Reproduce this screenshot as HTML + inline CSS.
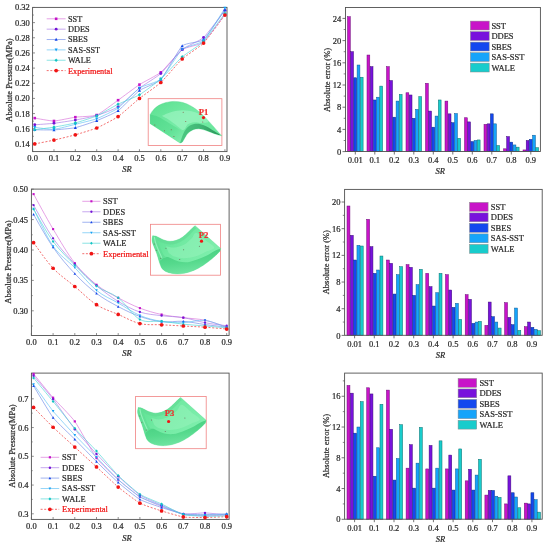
<!DOCTYPE html>
<html lang="en"><head><meta charset="utf-8"><title>Absolute pressure and absolute error versus SR</title>
<style>html,body{margin:0;padding:0;background:#fff}svg{display:block}</style></head>
<body>
<svg width="550" height="547" viewBox="0 0 550 547" font-family='"Liberation Serif", serif'>
<defs>
<linearGradient id="g1" x1="0" y1="0" x2="1" y2="1"><stop offset="0" stop-color="#5ae090"/><stop offset="0.45" stop-color="#76eba6"/><stop offset="1" stop-color="#62e597"/></linearGradient>
<linearGradient id="g1d" x1="0" y1="0" x2="1" y2="0"><stop offset="0" stop-color="#4cc982"/><stop offset="0.5" stop-color="#3fb574"/><stop offset="1" stop-color="#2a9058"/></linearGradient>
<linearGradient id="g1f" x1="0" y1="0" x2="1" y2="1"><stop offset="0" stop-color="#52d98b"/><stop offset="0.6" stop-color="#62e297"/><stop offset="1" stop-color="#84efb0"/></linearGradient>
<linearGradient id="g2" x1="0" y1="0" x2="1" y2="0.6"><stop offset="0" stop-color="#5ae090"/><stop offset="0.5" stop-color="#72eaa3"/><stop offset="1" stop-color="#80efae"/></linearGradient>
<linearGradient id="g2f" x1="0" y1="0" x2="0.3" y2="1"><stop offset="0" stop-color="#44cc7e"/><stop offset="0.6" stop-color="#55d98c"/><stop offset="1" stop-color="#6ee4a0"/></linearGradient>
</defs>
<rect width="550" height="547" fill="#ffffff"/>
<rect x="148.2" y="98.7" width="73.7" height="46.8" fill="#ffffff" stroke="#f08282" stroke-width="0.8"/>
<path d="M150.26 114.44 C150.73 113.73 151.67 111.7 153.09 110.18 C154.51 108.67 156.64 106.64 158.77 105.36 C160.89 104.09 163.26 103.19 165.86 102.52 C168.46 101.86 171.53 101.39 174.37 101.39 C177.21 101.39 180.04 101.72 182.88 102.52 C185.72 103.33 188.55 104.58 191.39 106.21 C194.23 107.84 197.3 110.11 199.9 112.31 C202.5 114.51 204.63 116.92 206.99 119.4 C209.36 121.89 212.08 124.96 214.09 127.21 C216.09 129.45 217.75 131.46 219.05 132.88 C220.35 134.3 221.41 135.24 221.89 135.72 L221.89 135.86 C221.07 135.65 218.77 135.15 216.99 134.58 C215.22 134.01 213.29 133.21 211.25 132.45 C209.2 131.7 206.78 130.66 204.72 130.04 C202.67 129.43 200.82 128.82 198.91 128.77 C196.99 128.71 195.02 128.99 193.23 129.7 C191.45 130.41 189.59 131.66 188.2 133.02 C186.8 134.38 185.82 136.35 184.87 137.84 C183.91 139.33 183.26 141.08 182.45 141.96 C181.65 142.83 180.44 142.9 180.04 143.09 L150.26 123.66 L150.26 114.44 Z" fill="url(#g1)" stroke="#4fd389" stroke-width="0.35"/>
<clipPath id="cpP1"><path d="M150.26 114.44 C150.73 113.73 151.67 111.7 153.09 110.18 C154.51 108.67 156.64 106.64 158.77 105.36 C160.89 104.09 163.26 103.19 165.86 102.52 C168.46 101.86 171.53 101.39 174.37 101.39 C177.21 101.39 180.04 101.72 182.88 102.52 C185.72 103.33 188.55 104.58 191.39 106.21 C194.23 107.84 197.3 110.11 199.9 112.31 C202.5 114.51 204.63 116.92 206.99 119.4 C209.36 121.89 212.08 124.96 214.09 127.21 C216.09 129.45 217.75 131.46 219.05 132.88 C220.35 134.3 221.41 135.24 221.89 135.72 L221.89 135.86 C221.07 135.65 218.77 135.15 216.99 134.58 C215.22 134.01 213.29 133.21 211.25 132.45 C209.2 131.7 206.78 130.66 204.72 130.04 C202.67 129.43 200.82 128.82 198.91 128.77 C196.99 128.71 195.02 128.99 193.23 129.7 C191.45 130.41 189.59 131.66 188.2 133.02 C186.8 134.38 185.82 136.35 184.87 137.84 C183.91 139.33 183.26 141.08 182.45 141.96 C181.65 142.83 180.44 142.9 180.04 143.09 L150.26 123.66 L150.26 114.44 Z"/></clipPath><g clip-path="url(#cpP1)">
<path d="M150.26 114.44 C151.2 114.68 153.8 115.03 155.93 115.86 C158.06 116.69 160.66 118.1 163.02 119.4 C165.39 120.7 167.75 122.24 170.11 123.66 C172.48 125.08 175.2 126.66 177.21 127.91 C179.22 129.17 180.99 130.47 182.17 131.18 C183.35 131.89 183.94 132 184.3 132.17 L184.3 132.17 C184.01 133 183.07 135.65 182.6 137.13 C182.12 138.62 181.89 140.11 181.46 141.11 C181.04 142.1 180.28 142.76 180.04 143.09 L150.26 123.66 Z" fill="url(#g1f)"/>
<path d="M161.6 115.86 C163.26 115.2 167.99 112.83 171.53 111.89 C175.08 110.94 179.1 110.18 182.88 110.18 C186.66 110.18 190.92 110.94 194.23 111.89 C197.54 112.83 200.37 114.25 202.74 115.86 C205.1 117.47 208.41 120.35 208.41 121.53 C208.41 122.71 205.1 122.83 202.74 122.95 C200.37 123.07 196.71 122 194.23 122.24 C191.74 122.48 189.69 123.07 187.84 124.37 C186 125.67 185.41 130.16 183.16 130.04 C180.92 129.92 177.02 125.55 174.37 123.66 C171.72 121.77 168.46 119.52 167.28 118.7 Z" fill="#a4f7c6" opacity="0.6"/>
<path d="M181.46 138.55 C181.9 137.48 182.98 134.06 184.1 132.1 C185.22 130.14 186.55 128.12 188.2 126.78 C189.85 125.44 191.93 124.5 194 124.09 C196.07 123.67 198.43 123.85 200.61 124.3 C202.79 124.75 204.79 125.61 207.11 126.78 C209.42 127.95 212.18 129.85 214.51 131.32 C216.84 132.78 219.76 134.72 221.11 135.57 C222.45 136.43 222.35 136.28 222.6 136.43 L221.89 135.86 C221.07 135.65 218.77 135.15 216.99 134.58 C215.22 134.01 213.29 133.21 211.25 132.45 C209.2 131.7 206.78 130.66 204.72 130.04 C202.67 129.43 200.82 128.82 198.91 128.77 C196.99 128.71 195.02 128.99 193.23 129.7 C191.45 130.41 189.59 131.66 188.2 133.02 C186.8 134.38 185.82 136.35 184.87 137.84 C183.91 139.33 183.26 141.08 182.45 141.96 C181.65 142.83 180.44 142.9 180.04 143.09 Z" fill="url(#g1d)"/>
<path d="M150.26 114.58 L150.26 123.66" fill="none" stroke="#45c97f" stroke-width="0.5"/>
</g>
<circle cx="183.16" cy="112.31" r="0.5" fill="#8a5a4a"/>
<circle cx="185.72" cy="121.53" r="0.5" fill="#8a5a4a"/>
<circle cx="202.74" cy="121.96" r="0.5" fill="#8a5a4a"/>
<circle cx="154.79" cy="125.08" r="0.5" fill="#8a5a4a"/>
<circle cx="164.44" cy="130.75" r="0.5" fill="#8a5a4a"/>
<circle cx="171.25" cy="129.76" r="0.5" fill="#8a5a4a"/>
<circle cx="173.94" cy="136.43" r="0.5" fill="#8a5a4a"/>
<text x="203.5" y="114.5" font-size="8.6" fill="#f03030" stroke="#f03030" stroke-width="0.22" text-anchor="middle" font-weight="bold">P1</text>
<circle cx="203.5" cy="117.6" r="1.6" fill="#f01414"/>
<rect x="32.6" y="7.4" width="194.4" height="144.2" fill="none" stroke="#505050" stroke-width="0.9"/>
<path d="M32.6 143.9h2.4" stroke="#606060" stroke-width="0.7"/>
<text x="29.8" y="146.9" font-size="8.5" fill="#2a2a2a" stroke="#2a2a2a" stroke-width="0.22" text-anchor="end" >0.14</text>
<path d="M32.6 128.74h2.4" stroke="#606060" stroke-width="0.7"/>
<text x="29.8" y="131.74" font-size="8.5" fill="#2a2a2a" stroke="#2a2a2a" stroke-width="0.22" text-anchor="end" >0.16</text>
<path d="M32.6 113.58h2.4" stroke="#606060" stroke-width="0.7"/>
<text x="29.8" y="116.58" font-size="8.5" fill="#2a2a2a" stroke="#2a2a2a" stroke-width="0.22" text-anchor="end" >0.18</text>
<path d="M32.6 98.42h2.4" stroke="#606060" stroke-width="0.7"/>
<text x="29.8" y="101.42" font-size="8.5" fill="#2a2a2a" stroke="#2a2a2a" stroke-width="0.22" text-anchor="end" >0.20</text>
<path d="M32.6 83.26h2.4" stroke="#606060" stroke-width="0.7"/>
<text x="29.8" y="86.26" font-size="8.5" fill="#2a2a2a" stroke="#2a2a2a" stroke-width="0.22" text-anchor="end" >0.22</text>
<path d="M32.6 68.1h2.4" stroke="#606060" stroke-width="0.7"/>
<text x="29.8" y="71.1" font-size="8.5" fill="#2a2a2a" stroke="#2a2a2a" stroke-width="0.22" text-anchor="end" >0.24</text>
<path d="M32.6 52.94h2.4" stroke="#606060" stroke-width="0.7"/>
<text x="29.8" y="55.94" font-size="8.5" fill="#2a2a2a" stroke="#2a2a2a" stroke-width="0.22" text-anchor="end" >0.26</text>
<path d="M32.6 37.78h2.4" stroke="#606060" stroke-width="0.7"/>
<text x="29.8" y="40.78" font-size="8.5" fill="#2a2a2a" stroke="#2a2a2a" stroke-width="0.22" text-anchor="end" >0.28</text>
<path d="M32.6 22.62h2.4" stroke="#606060" stroke-width="0.7"/>
<text x="29.8" y="25.62" font-size="8.5" fill="#2a2a2a" stroke="#2a2a2a" stroke-width="0.22" text-anchor="end" >0.30</text>
<path d="M32.6 7.46h2.4" stroke="#606060" stroke-width="0.7"/>
<text x="29.8" y="10.46" font-size="8.5" fill="#2a2a2a" stroke="#2a2a2a" stroke-width="0.22" text-anchor="end" >0.32</text>
<path d="M32.6 151.48h1.4" stroke="#606060" stroke-width="0.6"/>
<path d="M32.6 136.32h1.4" stroke="#606060" stroke-width="0.6"/>
<path d="M32.6 121.16h1.4" stroke="#606060" stroke-width="0.6"/>
<path d="M32.6 106h1.4" stroke="#606060" stroke-width="0.6"/>
<path d="M32.6 90.84h1.4" stroke="#606060" stroke-width="0.6"/>
<path d="M32.6 75.68h1.4" stroke="#606060" stroke-width="0.6"/>
<path d="M32.6 60.52h1.4" stroke="#606060" stroke-width="0.6"/>
<path d="M32.6 45.36h1.4" stroke="#606060" stroke-width="0.6"/>
<path d="M32.6 30.2h1.4" stroke="#606060" stroke-width="0.6"/>
<path d="M32.6 15.04h1.4" stroke="#606060" stroke-width="0.6"/>
<path d="M32.6 151.6v-2.4" stroke="#606060" stroke-width="0.7"/>
<text x="32.6" y="160.9" font-size="8.5" fill="#2a2a2a" stroke="#2a2a2a" stroke-width="0.22" text-anchor="middle" >0.0</text>
<path d="M53.97 151.6v-2.4" stroke="#606060" stroke-width="0.7"/>
<text x="53.97" y="160.9" font-size="8.5" fill="#2a2a2a" stroke="#2a2a2a" stroke-width="0.22" text-anchor="middle" >0.1</text>
<path d="M75.34 151.6v-2.4" stroke="#606060" stroke-width="0.7"/>
<text x="75.34" y="160.9" font-size="8.5" fill="#2a2a2a" stroke="#2a2a2a" stroke-width="0.22" text-anchor="middle" >0.2</text>
<path d="M96.71 151.6v-2.4" stroke="#606060" stroke-width="0.7"/>
<text x="96.71" y="160.9" font-size="8.5" fill="#2a2a2a" stroke="#2a2a2a" stroke-width="0.22" text-anchor="middle" >0.3</text>
<path d="M118.08 151.6v-2.4" stroke="#606060" stroke-width="0.7"/>
<text x="118.08" y="160.9" font-size="8.5" fill="#2a2a2a" stroke="#2a2a2a" stroke-width="0.22" text-anchor="middle" >0.4</text>
<path d="M139.45 151.6v-2.4" stroke="#606060" stroke-width="0.7"/>
<text x="139.45" y="160.9" font-size="8.5" fill="#2a2a2a" stroke="#2a2a2a" stroke-width="0.22" text-anchor="middle" >0.5</text>
<path d="M160.82 151.6v-2.4" stroke="#606060" stroke-width="0.7"/>
<text x="160.82" y="160.9" font-size="8.5" fill="#2a2a2a" stroke="#2a2a2a" stroke-width="0.22" text-anchor="middle" >0.6</text>
<path d="M182.19 151.6v-2.4" stroke="#606060" stroke-width="0.7"/>
<text x="182.19" y="160.9" font-size="8.5" fill="#2a2a2a" stroke="#2a2a2a" stroke-width="0.22" text-anchor="middle" >0.7</text>
<path d="M203.56 151.6v-2.4" stroke="#606060" stroke-width="0.7"/>
<text x="203.56" y="160.9" font-size="8.5" fill="#2a2a2a" stroke="#2a2a2a" stroke-width="0.22" text-anchor="middle" >0.8</text>
<path d="M224.93 151.6v-2.4" stroke="#606060" stroke-width="0.7"/>
<text x="224.93" y="160.9" font-size="8.5" fill="#2a2a2a" stroke="#2a2a2a" stroke-width="0.22" text-anchor="middle" >0.9</text>
<text x="127" y="171.6" font-size="8.5" fill="#2a2a2a" stroke="#2a2a2a" stroke-width="0.22" text-anchor="middle" font-style="italic">SR</text>
<text transform="translate(12.1 80) rotate(-90)" font-size="8.5" fill="#2a2a2a" stroke="#2a2a2a" stroke-width="0.22" text-anchor="middle">Absolute Pressure(MPa)</text>
<path d="M34.74 143.9 C36.34 143.58 50.59 140.87 53.97 140.11 C57.35 139.35 71.78 135.81 75.34 134.8 C78.9 133.79 93.15 129.5 96.71 127.98 C100.27 126.47 114.52 119.08 118.08 116.61 C121.64 114.15 135.89 101.26 139.45 98.42 C143.01 95.58 157.26 85.79 160.82 82.5 C164.38 79.22 178.63 62.29 182.19 59 C185.75 55.72 200 46.75 203.56 43.09 C207.12 39.42 223.15 17.38 224.93 15.04" fill="none" stroke="#f04a4a" stroke-width="0.8" stroke-dasharray="2 1.6"/>
<path d="M34.74 118.11 C36.34 118.35 50.59 121.06 53.97 120.99 C57.35 120.91 71.78 117.67 75.34 117.18 C78.9 116.68 93.15 116.46 96.71 115.05 C100.27 113.63 114.52 102.74 118.08 100.2 C121.64 97.67 135.89 86.95 139.45 84.62 C143.01 82.3 157.26 75.2 160.82 72.28 C164.38 69.37 178.63 52.16 182.19 49.64 C185.75 47.12 200 44.99 203.56 42.05 C207.12 39.11 223.15 16.64 224.93 14.34" fill="none" stroke="#d86fd8" stroke-width="0.65"/>
<path d="M34.74 124.8 C36.34 124.67 50.59 123.69 53.97 123.29 C57.35 122.9 71.78 120.7 75.34 120.06 C78.9 119.41 93.15 116.63 96.71 115.53 C100.27 114.44 114.52 109.16 118.08 106.87 C121.64 104.59 135.89 90.89 139.45 88.11 C143.01 85.33 157.26 76.76 160.82 73.54 C164.38 70.32 178.63 52.46 182.19 49.45 C185.75 46.45 200 40.76 203.56 37.5 C207.12 34.24 223.15 12.6 224.93 10.34" fill="none" stroke="#a878e6" stroke-width="0.65"/>
<path d="M34.74 129.79 C36.34 129.79 50.59 130.07 53.97 129.89 C57.35 129.71 71.78 128.43 75.34 127.66 C78.9 126.89 93.15 122.07 96.71 120.66 C100.27 119.25 114.52 113.25 118.08 110.74 C121.64 108.23 135.89 93.14 139.45 90.54 C143.01 87.93 157.26 83.2 160.82 79.49 C164.38 75.78 178.63 49.34 182.19 46.01 C185.75 42.69 200 42.58 203.56 39.57 C207.12 36.56 223.15 12.35 224.93 9.87" fill="none" stroke="#6e8ae8" stroke-width="0.65"/>
<path d="M34.74 127.35 C36.34 127.51 50.59 129.59 53.97 129.34 C57.35 129.09 71.78 125.21 75.34 124.32 C78.9 123.43 93.15 120.06 96.71 118.71 C100.27 117.35 114.52 110.63 118.08 108.07 C121.64 105.52 135.89 90.45 139.45 88.04 C143.01 85.63 157.26 82.37 160.82 79.15 C164.38 75.94 178.63 52.67 182.19 49.45 C185.75 46.24 200 44.05 203.56 40.6 C207.12 37.16 223.15 10.82 224.93 8.11" fill="none" stroke="#5cc0f4" stroke-width="0.65"/>
<path d="M34.74 129.68 C36.34 129.47 50.59 127.7 53.97 127.14 C57.35 126.58 71.78 123.87 75.34 122.94 C78.9 122 93.15 117.46 96.71 115.9 C100.27 114.34 114.52 105.96 118.08 104.21 C121.64 102.45 135.89 96.88 139.45 94.78 C143.01 92.68 157.26 82.14 160.82 78.98 C164.38 75.83 178.63 60.03 182.19 56.9 C185.75 53.77 200 45.06 203.56 41.43 C207.12 37.8 223.15 15.73 224.93 13.4" fill="none" stroke="#4cd6d6" stroke-width="0.65"/>
<rect x="33.44" y="116.81" width="2.6" height="2.6" fill="#c414c8"/>
<rect x="52.67" y="119.69" width="2.6" height="2.6" fill="#c414c8"/>
<rect x="74.04" y="115.88" width="2.6" height="2.6" fill="#c414c8"/>
<rect x="95.41" y="113.75" width="2.6" height="2.6" fill="#c414c8"/>
<rect x="116.78" y="98.9" width="2.6" height="2.6" fill="#c414c8"/>
<rect x="138.15" y="83.32" width="2.6" height="2.6" fill="#c414c8"/>
<rect x="159.52" y="70.98" width="2.6" height="2.6" fill="#c414c8"/>
<rect x="180.89" y="48.34" width="2.6" height="2.6" fill="#c414c8"/>
<rect x="202.26" y="40.75" width="2.6" height="2.6" fill="#c414c8"/>
<rect x="223.63" y="13.04" width="2.6" height="2.6" fill="#c414c8"/>
<circle cx="34.74" cy="124.8" r="1.43" fill="#7414d6"/>
<circle cx="53.97" cy="123.29" r="1.43" fill="#7414d6"/>
<circle cx="75.34" cy="120.06" r="1.43" fill="#7414d6"/>
<circle cx="96.71" cy="115.53" r="1.43" fill="#7414d6"/>
<circle cx="118.08" cy="106.87" r="1.43" fill="#7414d6"/>
<circle cx="139.45" cy="88.11" r="1.43" fill="#7414d6"/>
<circle cx="160.82" cy="73.54" r="1.43" fill="#7414d6"/>
<circle cx="182.19" cy="49.45" r="1.43" fill="#7414d6"/>
<circle cx="203.56" cy="37.5" r="1.43" fill="#7414d6"/>
<circle cx="224.93" cy="10.34" r="1.43" fill="#7414d6"/>
<path d="M34.74 128.1 L36.3 131.09 L33.18 131.09 Z" fill="#1446e8"/>
<path d="M53.97 128.2 L55.53 131.19 L52.41 131.19 Z" fill="#1446e8"/>
<path d="M75.34 125.97 L76.9 128.96 L73.78 128.96 Z" fill="#1446e8"/>
<path d="M96.71 118.97 L98.27 121.96 L95.15 121.96 Z" fill="#1446e8"/>
<path d="M118.08 109.05 L119.64 112.04 L116.52 112.04 Z" fill="#1446e8"/>
<path d="M139.45 88.85 L141.01 91.84 L137.89 91.84 Z" fill="#1446e8"/>
<path d="M160.82 77.8 L162.38 80.79 L159.26 80.79 Z" fill="#1446e8"/>
<path d="M182.19 44.32 L183.75 47.31 L180.63 47.31 Z" fill="#1446e8"/>
<path d="M203.56 37.88 L205.12 40.87 L202 40.87 Z" fill="#1446e8"/>
<path d="M224.93 8.18 L226.49 11.17 L223.37 11.17 Z" fill="#1446e8"/>
<path d="M34.74 129.04 L36.3 126.05 L33.18 126.05 Z" fill="#14a0f4"/>
<path d="M53.97 131.03 L55.53 128.04 L52.41 128.04 Z" fill="#14a0f4"/>
<path d="M75.34 126.01 L76.9 123.02 L73.78 123.02 Z" fill="#14a0f4"/>
<path d="M96.71 120.4 L98.27 117.41 L95.15 117.41 Z" fill="#14a0f4"/>
<path d="M118.08 109.76 L119.64 106.77 L116.52 106.77 Z" fill="#14a0f4"/>
<path d="M139.45 89.73 L141.01 86.74 L137.89 86.74 Z" fill="#14a0f4"/>
<path d="M160.82 80.84 L162.38 77.85 L159.26 77.85 Z" fill="#14a0f4"/>
<path d="M182.19 51.14 L183.75 48.15 L180.63 48.15 Z" fill="#14a0f4"/>
<path d="M203.56 42.29 L205.12 39.3 L202 39.3 Z" fill="#14a0f4"/>
<path d="M224.93 9.8 L226.49 6.81 L223.37 6.81 Z" fill="#14a0f4"/>
<path d="M34.74 127.86 L36.43 129.68 L34.74 131.5 L33.05 129.68 Z" fill="#14c4c4"/>
<path d="M53.97 125.32 L55.66 127.14 L53.97 128.96 L52.28 127.14 Z" fill="#14c4c4"/>
<path d="M75.34 121.12 L77.03 122.94 L75.34 124.76 L73.65 122.94 Z" fill="#14c4c4"/>
<path d="M96.71 114.08 L98.4 115.9 L96.71 117.72 L95.02 115.9 Z" fill="#14c4c4"/>
<path d="M118.08 102.39 L119.77 104.21 L118.08 106.03 L116.39 104.21 Z" fill="#14c4c4"/>
<path d="M139.45 92.96 L141.14 94.78 L139.45 96.6 L137.76 94.78 Z" fill="#14c4c4"/>
<path d="M160.82 77.16 L162.51 78.98 L160.82 80.8 L159.13 78.98 Z" fill="#14c4c4"/>
<path d="M182.19 55.08 L183.88 56.9 L182.19 58.72 L180.5 56.9 Z" fill="#14c4c4"/>
<path d="M203.56 39.61 L205.25 41.43 L203.56 43.25 L201.87 41.43 Z" fill="#14c4c4"/>
<path d="M224.93 11.58 L226.62 13.4 L224.93 15.22 L223.24 13.4 Z" fill="#14c4c4"/>
<circle cx="34.74" cy="143.9" r="1.85" fill="#f01414"/>
<circle cx="53.97" cy="140.11" r="1.85" fill="#f01414"/>
<circle cx="75.34" cy="134.8" r="1.85" fill="#f01414"/>
<circle cx="96.71" cy="127.98" r="1.85" fill="#f01414"/>
<circle cx="118.08" cy="116.61" r="1.85" fill="#f01414"/>
<circle cx="139.45" cy="98.42" r="1.85" fill="#f01414"/>
<circle cx="160.82" cy="82.5" r="1.85" fill="#f01414"/>
<circle cx="182.19" cy="59" r="1.85" fill="#f01414"/>
<circle cx="203.56" cy="43.09" r="1.85" fill="#f01414"/>
<circle cx="224.93" cy="15.04" r="1.85" fill="#f01414"/>
<path d="M46.7 18.8H65.6" stroke="#d86fd8" stroke-width="0.65"/>
<rect x="54.85" y="17.5" width="2.6" height="2.6" fill="#c414c8"/>
<text x="68" y="21.7" font-size="8.25" fill="#2a2a2a" stroke="#2a2a2a" stroke-width="0.22" text-anchor="start" >SST</text>
<path d="M46.7 29.16H65.6" stroke="#a878e6" stroke-width="0.65"/>
<circle cx="56.15" cy="29.16" r="1.43" fill="#7414d6"/>
<text x="68" y="32.06" font-size="8.25" fill="#2a2a2a" stroke="#2a2a2a" stroke-width="0.22" text-anchor="start" >DDES</text>
<path d="M46.7 39.52H65.6" stroke="#6e8ae8" stroke-width="0.65"/>
<path d="M56.15 37.83 L57.71 40.82 L54.59 40.82 Z" fill="#1446e8"/>
<text x="68" y="42.42" font-size="8.25" fill="#2a2a2a" stroke="#2a2a2a" stroke-width="0.22" text-anchor="start" >SBES</text>
<path d="M46.7 49.88H65.6" stroke="#5cc0f4" stroke-width="0.65"/>
<path d="M56.15 51.57 L57.71 48.58 L54.59 48.58 Z" fill="#14a0f4"/>
<text x="68" y="52.78" font-size="8.25" fill="#2a2a2a" stroke="#2a2a2a" stroke-width="0.22" text-anchor="start" >SAS-SST</text>
<path d="M46.7 60.24H65.6" stroke="#4cd6d6" stroke-width="0.65"/>
<path d="M56.15 58.42 L57.84 60.24 L56.15 62.06 L54.46 60.24 Z" fill="#14c4c4"/>
<text x="68" y="63.14" font-size="8.25" fill="#2a2a2a" stroke="#2a2a2a" stroke-width="0.22" text-anchor="start" >WALE</text>
<path d="M46.7 70.6H65.6" stroke="#f04a4a" stroke-width="0.8" stroke-dasharray="2 1.6"/>
<circle cx="56.15" cy="70.6" r="1.85" fill="#f01414"/>
<text x="68" y="73.5" font-size="8.25" fill="#f01414" stroke="#f01414" stroke-width="0.22" text-anchor="start" >Experimental</text>
<rect x="150.5" y="224.3" width="70" height="50.9" fill="#ffffff" stroke="#f08282" stroke-width="0.8"/>
<path d="M152.63 235.75 C153.29 235.86 154.83 235.78 156.57 236.44 C158.31 237.1 160.89 238.87 163.06 239.69 C165.24 240.5 167.44 241.24 169.62 241.35 C171.81 241.45 174.01 241.02 176.19 240.31 C178.36 239.59 180.61 238.48 182.68 237.06 C184.76 235.65 186.87 233.45 188.62 231.81 C190.37 230.18 192.1 228.28 193.18 227.25 C194.27 226.23 194.8 225.93 195.12 225.66 L220.68 248.53 L219.99 251.16 L219.99 251.16 C219.23 251.92 217.5 253.87 215.43 255.72 C213.36 257.56 210.39 260.14 207.56 262.21 C204.72 264.28 201.48 266.52 198.44 268.15 C195.4 269.79 192.38 271.08 189.32 272.02 C186.25 272.96 182.91 273.59 180.06 273.82 C177.2 274.05 174.58 273.79 172.18 273.4 C169.79 273.01 167.41 272.34 165.69 271.47 C163.96 270.59 162.8 269.46 161.82 268.15 C160.84 266.84 160.15 264.35 159.81 263.59 L159.81 263.59 C159.27 261.84 157.61 256.11 156.57 253.09 C155.52 250.07 154.26 247.56 153.53 245.49 C152.79 243.42 152.3 242.28 152.15 240.65 C152 239.03 152.55 236.57 152.63 235.75 Z" fill="url(#g2)" stroke="#4fd389" stroke-width="0.35"/>
<clipPath id="cpP2"><path d="M152.63 235.75 C153.29 235.86 154.83 235.78 156.57 236.44 C158.31 237.1 160.89 238.87 163.06 239.69 C165.24 240.5 167.44 241.24 169.62 241.35 C171.81 241.45 174.01 241.02 176.19 240.31 C178.36 239.59 180.61 238.48 182.68 237.06 C184.76 235.65 186.87 233.45 188.62 231.81 C190.37 230.18 192.1 228.28 193.18 227.25 C194.27 226.23 194.8 225.93 195.12 225.66 L220.68 248.53 L219.99 251.16 L219.99 251.16 C219.23 251.92 217.5 253.87 215.43 255.72 C213.36 257.56 210.39 260.14 207.56 262.21 C204.72 264.28 201.48 266.52 198.44 268.15 C195.4 269.79 192.38 271.08 189.32 272.02 C186.25 272.96 182.91 273.59 180.06 273.82 C177.2 274.05 174.58 273.79 172.18 273.4 C169.79 273.01 167.41 272.34 165.69 271.47 C163.96 270.59 162.8 269.46 161.82 268.15 C160.84 266.84 160.15 264.35 159.81 263.59 L159.81 263.59 C159.27 261.84 157.61 256.11 156.57 253.09 C155.52 250.07 154.26 247.56 153.53 245.49 C152.79 243.42 152.3 242.28 152.15 240.65 C152 239.03 152.55 236.57 152.63 235.75 Z"/></clipPath><g clip-path="url(#cpP2)">
<path d="M152.63 237.2 C153.29 237.34 154.83 237.34 156.57 238.03 C158.31 238.72 160.89 240.52 163.06 241.35 C165.24 242.17 167.44 242.89 169.62 243 C171.81 243.12 174.01 242.75 176.19 242.04 C178.36 241.32 180.61 240.12 182.68 238.72 C184.76 237.31 186.87 235.24 188.62 233.61 C190.37 231.97 192.1 229.97 193.18 228.91 C194.27 227.85 194.8 227.53 195.12 227.25" fill="none" stroke="#62dc94" stroke-width="3.2" opacity="0.7"/>
<path d="M165.96 246.18 C167.35 246.41 171.26 247.79 174.25 247.56 C177.25 247.33 181.05 246.3 183.93 244.8 C186.81 243.3 189.45 240.54 191.53 238.58 C193.6 236.62 193.94 232.71 196.36 233.05 C198.78 233.4 203.04 238.24 206.04 240.65 C209.03 243.07 214.33 245.72 214.33 247.56 C214.33 249.41 209.26 250.21 206.04 251.71 C202.81 253.21 198.67 255.46 194.98 256.54 C191.3 257.63 187.38 258.2 183.93 258.2 C180.47 258.2 176.79 257.4 174.25 256.54 C171.72 255.69 169.65 253.67 168.73 253.09 Z" fill="#9ff6c2" opacity="0.42"/>
<path d="M159.81 260.97 C160.36 260.53 161.86 259 163.06 258.34 C164.26 257.68 165.69 257.03 167 257.03 C168.31 257.03 168.97 257.58 170.94 258.34 C172.91 259.1 175.98 260.94 178.81 261.59 C181.65 262.23 184.88 262.54 187.93 262.21 C190.99 261.88 194.06 260.67 197.12 259.58 C200.19 258.5 203.48 257.12 206.31 255.72 C209.14 254.31 211.72 252.35 214.12 251.16 C216.51 249.96 219.59 248.97 220.68 248.53 L219.99 251.16 L219.99 251.16 C219.23 251.92 217.5 253.87 215.43 255.72 C213.36 257.56 210.39 260.14 207.56 262.21 C204.72 264.28 201.48 266.52 198.44 268.15 C195.4 269.79 192.38 271.08 189.32 272.02 C186.25 272.96 182.91 273.59 180.06 273.82 C177.2 274.05 174.58 273.79 172.18 273.4 C169.79 273.01 167.41 272.34 165.69 271.47 C163.96 270.59 162.8 269.46 161.82 268.15 C160.84 266.84 160.15 264.35 159.81 263.59 Z" fill="url(#g2f)"/>
<path d="M152.63 235.75 C153.29 235.86 155.91 236.32 156.57 236.44 L156.57 236.44 C156.87 237.49 157.56 240.41 158.36 242.73 C159.17 245.04 160.41 248.14 161.4 250.33 C162.39 252.51 163.37 254.74 164.31 255.85 C165.24 256.97 166.55 256.83 167 257.03 L167 257.03 C166.34 257.25 164.26 257.68 163.06 258.34 C161.86 259 160.36 260.09 159.81 260.97 C159.27 261.84 160.36 264.9 159.81 263.59 C159.27 262.28 157.61 256.11 156.57 253.09 C155.52 250.07 154.26 247.56 153.53 245.49 C152.79 243.42 152.3 242.28 152.15 240.65 C152 239.03 152.55 236.57 152.63 235.75 Z" fill="#62e096"/>
<path d="M154.36 237.2 C154.56 238.12 154.86 240.42 155.6 242.73 C156.34 245.03 157.74 248.53 158.78 251.02 C159.81 253.5 161.31 256.54 161.82 257.65" fill="none" stroke="#a2f6c4" stroke-width="1.1" opacity="0.75"/>
</g>
<circle cx="165.96" cy="248.25" r="0.5" fill="#6a6a5a"/>
<circle cx="183.65" cy="249.64" r="0.5" fill="#6a6a5a"/>
<circle cx="199.4" cy="246.18" r="0.5" fill="#6a6a5a"/>
<circle cx="179.78" cy="259.58" r="0.5" fill="#6a6a5a"/>
<circle cx="156.29" cy="250.33" r="0.5" fill="#6a6a5a"/>
<circle cx="154.22" cy="244.11" r="0.5" fill="#6a6a5a"/>
<circle cx="160.71" cy="258.2" r="0.5" fill="#6a6a5a"/>
<text x="203.5" y="237.5" font-size="8.6" fill="#f03030" stroke="#f03030" stroke-width="0.22" text-anchor="middle" font-weight="bold">P2</text>
<circle cx="201.5" cy="241.2" r="1.6" fill="#f01414"/>
<rect x="31.4" y="189.1" width="197.7" height="146.35" fill="none" stroke="#505050" stroke-width="0.9"/>
<path d="M31.4 310.8h2.4" stroke="#606060" stroke-width="0.7"/>
<text x="28" y="313.8" font-size="8.5" fill="#2a2a2a" stroke="#2a2a2a" stroke-width="0.22" text-anchor="end" >0.30</text>
<path d="M31.4 280.4h2.4" stroke="#606060" stroke-width="0.7"/>
<text x="28" y="283.4" font-size="8.5" fill="#2a2a2a" stroke="#2a2a2a" stroke-width="0.22" text-anchor="end" >0.35</text>
<path d="M31.4 250h2.4" stroke="#606060" stroke-width="0.7"/>
<text x="28" y="253" font-size="8.5" fill="#2a2a2a" stroke="#2a2a2a" stroke-width="0.22" text-anchor="end" >0.40</text>
<path d="M31.4 219.6h2.4" stroke="#606060" stroke-width="0.7"/>
<text x="28" y="222.6" font-size="8.5" fill="#2a2a2a" stroke="#2a2a2a" stroke-width="0.22" text-anchor="end" >0.45</text>
<path d="M31.4 189.2h2.4" stroke="#606060" stroke-width="0.7"/>
<text x="28" y="192.2" font-size="8.5" fill="#2a2a2a" stroke="#2a2a2a" stroke-width="0.22" text-anchor="end" >0.50</text>
<path d="M31.4 326h1.4" stroke="#606060" stroke-width="0.6"/>
<path d="M31.4 295.6h1.4" stroke="#606060" stroke-width="0.6"/>
<path d="M31.4 265.2h1.4" stroke="#606060" stroke-width="0.6"/>
<path d="M31.4 234.8h1.4" stroke="#606060" stroke-width="0.6"/>
<path d="M31.4 204.4h1.4" stroke="#606060" stroke-width="0.6"/>
<path d="M31.4 335.45v-2.4" stroke="#606060" stroke-width="0.7"/>
<text x="31.4" y="344.8" font-size="8.5" fill="#2a2a2a" stroke="#2a2a2a" stroke-width="0.22" text-anchor="middle" >0.0</text>
<path d="M53.1 335.45v-2.4" stroke="#606060" stroke-width="0.7"/>
<text x="53.1" y="344.8" font-size="8.5" fill="#2a2a2a" stroke="#2a2a2a" stroke-width="0.22" text-anchor="middle" >0.1</text>
<path d="M74.8 335.45v-2.4" stroke="#606060" stroke-width="0.7"/>
<text x="74.8" y="344.8" font-size="8.5" fill="#2a2a2a" stroke="#2a2a2a" stroke-width="0.22" text-anchor="middle" >0.2</text>
<path d="M96.5 335.45v-2.4" stroke="#606060" stroke-width="0.7"/>
<text x="96.5" y="344.8" font-size="8.5" fill="#2a2a2a" stroke="#2a2a2a" stroke-width="0.22" text-anchor="middle" >0.3</text>
<path d="M118.2 335.45v-2.4" stroke="#606060" stroke-width="0.7"/>
<text x="118.2" y="344.8" font-size="8.5" fill="#2a2a2a" stroke="#2a2a2a" stroke-width="0.22" text-anchor="middle" >0.4</text>
<path d="M139.9 335.45v-2.4" stroke="#606060" stroke-width="0.7"/>
<text x="139.9" y="344.8" font-size="8.5" fill="#2a2a2a" stroke="#2a2a2a" stroke-width="0.22" text-anchor="middle" >0.5</text>
<path d="M161.6 335.45v-2.4" stroke="#606060" stroke-width="0.7"/>
<text x="161.6" y="344.8" font-size="8.5" fill="#2a2a2a" stroke="#2a2a2a" stroke-width="0.22" text-anchor="middle" >0.6</text>
<path d="M183.3 335.45v-2.4" stroke="#606060" stroke-width="0.7"/>
<text x="183.3" y="344.8" font-size="8.5" fill="#2a2a2a" stroke="#2a2a2a" stroke-width="0.22" text-anchor="middle" >0.7</text>
<path d="M205 335.45v-2.4" stroke="#606060" stroke-width="0.7"/>
<text x="205" y="344.8" font-size="8.5" fill="#2a2a2a" stroke="#2a2a2a" stroke-width="0.22" text-anchor="middle" >0.8</text>
<path d="M226.7 335.45v-2.4" stroke="#606060" stroke-width="0.7"/>
<text x="226.7" y="344.8" font-size="8.5" fill="#2a2a2a" stroke="#2a2a2a" stroke-width="0.22" text-anchor="middle" >0.9</text>
<text x="127" y="356.3" font-size="8.5" fill="#2a2a2a" stroke="#2a2a2a" stroke-width="0.22" text-anchor="middle" font-style="italic">SR</text>
<text transform="translate(10.9 262) rotate(-90)" font-size="8.5" fill="#2a2a2a" stroke="#2a2a2a" stroke-width="0.22" text-anchor="middle">Absolute Pressure(MPa)</text>
<path d="M33.57 242.7 C36.83 246.96 46.23 260.94 53.1 268.24 C59.97 275.54 67.57 280.4 74.8 286.48 C82.03 292.56 89.27 300.06 96.5 304.72 C103.73 309.38 110.97 311.31 118.2 314.45 C125.43 317.59 132.67 321.85 139.9 323.57 C147.13 325.29 154.37 324.38 161.6 324.78 C168.83 325.19 176.07 325.59 183.3 326 C190.53 326.41 197.77 326.71 205 327.22 C212.23 327.72 223.08 328.74 226.7 329.04" fill="none" stroke="#f04a4a" stroke-width="0.8" stroke-dasharray="2 1.6"/>
<path d="M33.57 194.11 C36.83 199.94 46.23 217.59 53.1 229.1 C59.97 240.6 67.57 253.85 74.8 263.12 C82.03 272.39 89.27 278.96 96.5 284.74 C103.73 290.53 110.97 293.93 118.2 297.82 C125.43 301.72 132.67 305.35 139.9 308.13 C147.13 310.91 154.37 312.93 161.6 314.51 C168.83 316.1 176.07 316.68 183.3 317.64 C190.53 318.6 197.77 318.7 205 320.24 C212.23 321.79 223.08 325.8 226.7 326.91" fill="none" stroke="#d86fd8" stroke-width="0.65"/>
<path d="M33.57 205.13 C36.83 210.66 46.23 228.48 53.1 238.32 C59.97 248.16 67.57 256.29 74.8 264.15 C82.03 272.02 89.27 279.29 96.5 285.5 C103.73 291.7 110.97 296.98 118.2 301.4 C125.43 305.82 132.67 309.65 139.9 312.03 C147.13 314.41 154.37 314.76 161.6 315.69 C168.83 316.62 176.07 316.47 183.3 317.64 C190.53 318.81 197.77 321.38 205 322.73 C212.23 324.09 223.08 325.25 226.7 325.76" fill="none" stroke="#a878e6" stroke-width="0.65"/>
<path d="M33.57 214.4 C36.83 219.88 46.23 237.44 53.1 247.32 C59.97 257.2 67.57 265.98 74.8 273.66 C82.03 281.35 89.27 287.92 96.5 293.41 C103.73 298.9 110.97 302.74 118.2 306.58 C125.43 310.42 132.67 313.92 139.9 316.44 C147.13 318.97 154.37 320.94 161.6 321.75 C168.83 322.57 176.07 320.85 183.3 321.32 C190.53 321.79 197.77 323.6 205 324.56 C212.23 325.52 223.08 326.65 226.7 327.07" fill="none" stroke="#6e8ae8" stroke-width="0.65"/>
<path d="M33.57 208.89 C36.83 215.1 46.23 236.4 53.1 246.19 C59.97 255.99 67.57 260.3 74.8 267.67 C82.03 275.04 89.27 284.51 96.5 290.4 C103.73 296.29 110.97 298.84 118.2 303.01 C125.43 307.18 132.67 312.36 139.9 315.43 C147.13 318.49 154.37 320.21 161.6 321.42 C168.83 322.62 176.07 322.82 183.3 322.66 C190.53 322.49 197.77 319.59 205 320.41 C212.23 321.23 223.08 326.37 226.7 327.56" fill="none" stroke="#5cc0f4" stroke-width="0.65"/>
<path d="M33.57 209.14 C36.83 214.53 46.23 232.13 53.1 241.47 C59.97 250.81 67.57 257.76 74.8 265.19 C82.03 272.62 89.27 280.62 96.5 286.06 C103.73 291.5 110.97 292.25 118.2 297.82 C125.43 303.4 132.67 315.59 139.9 319.5 C147.13 323.4 154.37 320.47 161.6 321.25 C168.83 322.02 176.07 323.37 183.3 324.16 C190.53 324.95 197.77 325.35 205 325.97 C212.23 326.59 223.08 327.57 226.7 327.89" fill="none" stroke="#4cd6d6" stroke-width="0.65"/>
<rect x="32.52" y="193.06" width="2.1" height="2.1" fill="#c414c8"/>
<rect x="52.05" y="228.05" width="2.1" height="2.1" fill="#c414c8"/>
<rect x="73.75" y="262.07" width="2.1" height="2.1" fill="#c414c8"/>
<rect x="95.45" y="283.69" width="2.1" height="2.1" fill="#c414c8"/>
<rect x="117.15" y="296.77" width="2.1" height="2.1" fill="#c414c8"/>
<rect x="138.85" y="307.08" width="2.1" height="2.1" fill="#c414c8"/>
<rect x="160.55" y="313.46" width="2.1" height="2.1" fill="#c414c8"/>
<rect x="182.25" y="316.59" width="2.1" height="2.1" fill="#c414c8"/>
<rect x="203.95" y="319.19" width="2.1" height="2.1" fill="#c414c8"/>
<rect x="225.65" y="325.86" width="2.1" height="2.1" fill="#c414c8"/>
<circle cx="33.57" cy="205.13" r="1.16" fill="#7414d6"/>
<circle cx="53.1" cy="238.32" r="1.16" fill="#7414d6"/>
<circle cx="74.8" cy="264.15" r="1.16" fill="#7414d6"/>
<circle cx="96.5" cy="285.5" r="1.16" fill="#7414d6"/>
<circle cx="118.2" cy="301.4" r="1.16" fill="#7414d6"/>
<circle cx="139.9" cy="312.03" r="1.16" fill="#7414d6"/>
<circle cx="161.6" cy="315.69" r="1.16" fill="#7414d6"/>
<circle cx="183.3" cy="317.64" r="1.16" fill="#7414d6"/>
<circle cx="205" cy="322.73" r="1.16" fill="#7414d6"/>
<circle cx="226.7" cy="325.76" r="1.16" fill="#7414d6"/>
<path d="M33.57 213.03 L34.83 215.45 L32.31 215.45 Z" fill="#1446e8"/>
<path d="M53.1 245.95 L54.36 248.37 L51.84 248.37 Z" fill="#1446e8"/>
<path d="M74.8 272.3 L76.06 274.71 L73.54 274.71 Z" fill="#1446e8"/>
<path d="M96.5 292.05 L97.76 294.46 L95.24 294.46 Z" fill="#1446e8"/>
<path d="M118.2 305.22 L119.46 307.63 L116.94 307.63 Z" fill="#1446e8"/>
<path d="M139.9 315.08 L141.16 317.49 L138.64 317.49 Z" fill="#1446e8"/>
<path d="M161.6 320.39 L162.86 322.8 L160.34 322.8 Z" fill="#1446e8"/>
<path d="M183.3 319.95 L184.56 322.37 L182.04 322.37 Z" fill="#1446e8"/>
<path d="M205 323.2 L206.26 325.61 L203.74 325.61 Z" fill="#1446e8"/>
<path d="M226.7 325.71 L227.96 328.12 L225.44 328.12 Z" fill="#1446e8"/>
<path d="M33.57 210.25 L34.83 207.84 L32.31 207.84 Z" fill="#14a0f4"/>
<path d="M53.1 247.56 L54.36 245.14 L51.84 245.14 Z" fill="#14a0f4"/>
<path d="M74.8 269.03 L76.06 266.62 L73.54 266.62 Z" fill="#14a0f4"/>
<path d="M96.5 291.76 L97.76 289.35 L95.24 289.35 Z" fill="#14a0f4"/>
<path d="M118.2 304.37 L119.46 301.96 L116.94 301.96 Z" fill="#14a0f4"/>
<path d="M139.9 316.79 L141.16 314.38 L138.64 314.38 Z" fill="#14a0f4"/>
<path d="M161.6 322.78 L162.86 320.37 L160.34 320.37 Z" fill="#14a0f4"/>
<path d="M183.3 324.02 L184.56 321.61 L182.04 321.61 Z" fill="#14a0f4"/>
<path d="M205 321.78 L206.26 319.36 L203.74 319.36 Z" fill="#14a0f4"/>
<path d="M226.7 328.93 L227.96 326.51 L225.44 326.51 Z" fill="#14a0f4"/>
<path d="M33.57 207.67 L34.94 209.14 L33.57 210.61 L32.2 209.14 Z" fill="#14c4c4"/>
<path d="M53.1 240 L54.47 241.47 L53.1 242.94 L51.73 241.47 Z" fill="#14c4c4"/>
<path d="M74.8 263.72 L76.17 265.19 L74.8 266.66 L73.44 265.19 Z" fill="#14c4c4"/>
<path d="M96.5 284.59 L97.86 286.06 L96.5 287.53 L95.14 286.06 Z" fill="#14c4c4"/>
<path d="M118.2 296.35 L119.57 297.82 L118.2 299.29 L116.84 297.82 Z" fill="#14c4c4"/>
<path d="M139.9 318.03 L141.27 319.5 L139.9 320.97 L138.53 319.5 Z" fill="#14c4c4"/>
<path d="M161.6 319.78 L162.97 321.25 L161.6 322.72 L160.23 321.25 Z" fill="#14c4c4"/>
<path d="M183.3 322.69 L184.66 324.16 L183.3 325.63 L181.93 324.16 Z" fill="#14c4c4"/>
<path d="M205 324.5 L206.37 325.97 L205 327.44 L203.64 325.97 Z" fill="#14c4c4"/>
<path d="M226.7 326.42 L228.07 327.89 L226.7 329.36 L225.34 327.89 Z" fill="#14c4c4"/>
<circle cx="33.57" cy="242.7" r="1.85" fill="#f01414"/>
<circle cx="53.1" cy="268.24" r="1.85" fill="#f01414"/>
<circle cx="74.8" cy="286.48" r="1.85" fill="#f01414"/>
<circle cx="96.5" cy="304.72" r="1.85" fill="#f01414"/>
<circle cx="118.2" cy="314.45" r="1.85" fill="#f01414"/>
<circle cx="139.9" cy="323.57" r="1.85" fill="#f01414"/>
<circle cx="161.6" cy="324.78" r="1.85" fill="#f01414"/>
<circle cx="183.3" cy="326" r="1.85" fill="#f01414"/>
<circle cx="205" cy="327.22" r="1.85" fill="#f01414"/>
<circle cx="226.7" cy="329.04" r="1.85" fill="#f01414"/>
<path d="M82.3 201.3H100.5" stroke="#d86fd8" stroke-width="0.65"/>
<rect x="90.35" y="200.25" width="2.1" height="2.1" fill="#c414c8"/>
<text x="103.1" y="204.2" font-size="8.45" fill="#2a2a2a" stroke="#2a2a2a" stroke-width="0.22" text-anchor="start" >SST</text>
<path d="M82.3 211.78H100.5" stroke="#a878e6" stroke-width="0.65"/>
<circle cx="91.4" cy="211.78" r="1.16" fill="#7414d6"/>
<text x="103.1" y="214.68" font-size="8.45" fill="#2a2a2a" stroke="#2a2a2a" stroke-width="0.22" text-anchor="start" >DDES</text>
<path d="M82.3 222.26H100.5" stroke="#6e8ae8" stroke-width="0.65"/>
<path d="M91.4 220.9 L92.66 223.31 L90.14 223.31 Z" fill="#1446e8"/>
<text x="103.1" y="225.16" font-size="8.45" fill="#2a2a2a" stroke="#2a2a2a" stroke-width="0.22" text-anchor="start" >SBES</text>
<path d="M82.3 232.74H100.5" stroke="#5cc0f4" stroke-width="0.65"/>
<path d="M91.4 234.11 L92.66 231.69 L90.14 231.69 Z" fill="#14a0f4"/>
<text x="103.1" y="235.64" font-size="8.45" fill="#2a2a2a" stroke="#2a2a2a" stroke-width="0.22" text-anchor="start" >SAS-SST</text>
<path d="M82.3 243.22H100.5" stroke="#4cd6d6" stroke-width="0.65"/>
<path d="M91.4 241.75 L92.77 243.22 L91.4 244.69 L90.04 243.22 Z" fill="#14c4c4"/>
<text x="103.1" y="246.12" font-size="8.45" fill="#2a2a2a" stroke="#2a2a2a" stroke-width="0.22" text-anchor="start" >WALE</text>
<path d="M82.3 253.7H100.5" stroke="#f04a4a" stroke-width="0.8" stroke-dasharray="2 1.6"/>
<circle cx="91.4" cy="253.7" r="1.85" fill="#f01414"/>
<text x="103.1" y="256.6" font-size="8.45" fill="#f01414" stroke="#f01414" stroke-width="0.22" text-anchor="start" >Experimental</text>
<rect x="135.6" y="396.5" width="70.6" height="52.2" fill="#ffffff" stroke="#f08282" stroke-width="0.8"/>
<path d="M138.13 407.55 C138.79 407.66 140.33 407.58 142.07 408.24 C143.81 408.9 146.39 410.67 148.56 411.49 C150.74 412.3 152.94 413.04 155.12 413.15 C157.31 413.25 159.51 412.82 161.69 412.11 C163.86 411.39 166.11 410.28 168.18 408.86 C170.26 407.45 172.37 405.25 174.12 403.61 C175.87 401.98 177.6 400.08 178.68 399.05 C179.77 398.03 180.3 397.73 180.62 397.46 L206.18 420.33 L205.49 422.96 L205.49 422.96 C204.73 423.72 203 425.67 200.93 427.52 C198.86 429.36 195.89 431.94 193.06 434.01 C190.22 436.08 186.98 438.32 183.94 439.95 C180.9 441.59 177.88 442.88 174.82 443.82 C171.75 444.76 168.41 445.39 165.56 445.62 C162.7 445.85 160.08 445.59 157.68 445.2 C155.29 444.81 152.91 444.14 151.19 443.27 C149.46 442.39 148.3 441.26 147.32 439.95 C146.34 438.64 145.65 436.15 145.31 435.39 L145.31 435.39 C144.77 433.64 143.11 427.91 142.07 424.89 C141.02 421.87 139.76 419.36 139.03 417.29 C138.29 415.22 137.8 414.08 137.65 412.45 C137.5 410.83 138.05 408.37 138.13 407.55 Z" fill="url(#g2)" stroke="#4fd389" stroke-width="0.35"/>
<clipPath id="cpP3"><path d="M138.13 407.55 C138.79 407.66 140.33 407.58 142.07 408.24 C143.81 408.9 146.39 410.67 148.56 411.49 C150.74 412.3 152.94 413.04 155.12 413.15 C157.31 413.25 159.51 412.82 161.69 412.11 C163.86 411.39 166.11 410.28 168.18 408.86 C170.26 407.45 172.37 405.25 174.12 403.61 C175.87 401.98 177.6 400.08 178.68 399.05 C179.77 398.03 180.3 397.73 180.62 397.46 L206.18 420.33 L205.49 422.96 L205.49 422.96 C204.73 423.72 203 425.67 200.93 427.52 C198.86 429.36 195.89 431.94 193.06 434.01 C190.22 436.08 186.98 438.32 183.94 439.95 C180.9 441.59 177.88 442.88 174.82 443.82 C171.75 444.76 168.41 445.39 165.56 445.62 C162.7 445.85 160.08 445.59 157.68 445.2 C155.29 444.81 152.91 444.14 151.19 443.27 C149.46 442.39 148.3 441.26 147.32 439.95 C146.34 438.64 145.65 436.15 145.31 435.39 L145.31 435.39 C144.77 433.64 143.11 427.91 142.07 424.89 C141.02 421.87 139.76 419.36 139.03 417.29 C138.29 415.22 137.8 414.08 137.65 412.45 C137.5 410.83 138.05 408.37 138.13 407.55 Z"/></clipPath><g clip-path="url(#cpP3)">
<path d="M138.13 409 C138.79 409.14 140.33 409.14 142.07 409.83 C143.81 410.52 146.39 412.32 148.56 413.15 C150.74 413.97 152.94 414.69 155.12 414.8 C157.31 414.92 159.51 414.55 161.69 413.84 C163.86 413.12 166.11 411.92 168.18 410.52 C170.26 409.11 172.37 407.04 174.12 405.41 C175.87 403.77 177.6 401.77 178.68 400.71 C179.77 399.65 180.3 399.33 180.62 399.05" fill="none" stroke="#62dc94" stroke-width="3.2" opacity="0.7"/>
<path d="M151.46 417.98 C152.85 418.21 156.76 419.59 159.75 419.36 C162.75 419.13 166.55 418.1 169.43 416.6 C172.31 415.1 174.95 412.34 177.03 410.38 C179.1 408.42 179.44 404.51 181.86 404.85 C184.28 405.2 188.54 410.04 191.54 412.45 C194.53 414.87 199.83 417.52 199.83 419.36 C199.83 421.21 194.76 422.01 191.54 423.51 C188.31 425.01 184.17 427.26 180.48 428.34 C176.8 429.43 172.88 430 169.43 430 C165.97 430 162.29 429.2 159.75 428.34 C157.22 427.49 155.15 425.47 154.23 424.89 Z" fill="#9ff6c2" opacity="0.42"/>
<path d="M145.31 432.77 C145.86 432.33 147.36 430.8 148.56 430.14 C149.76 429.48 151.19 428.83 152.5 428.83 C153.81 428.83 154.47 429.38 156.44 430.14 C158.41 430.9 161.48 432.74 164.31 433.39 C167.15 434.03 170.38 434.34 173.43 434.01 C176.49 433.68 179.56 432.47 182.62 431.38 C185.69 430.3 188.98 428.92 191.81 427.52 C194.64 426.11 197.22 424.15 199.62 422.96 C202.01 421.76 205.09 420.77 206.18 420.33 L205.49 422.96 L205.49 422.96 C204.73 423.72 203 425.67 200.93 427.52 C198.86 429.36 195.89 431.94 193.06 434.01 C190.22 436.08 186.98 438.32 183.94 439.95 C180.9 441.59 177.88 442.88 174.82 443.82 C171.75 444.76 168.41 445.39 165.56 445.62 C162.7 445.85 160.08 445.59 157.68 445.2 C155.29 444.81 152.91 444.14 151.19 443.27 C149.46 442.39 148.3 441.26 147.32 439.95 C146.34 438.64 145.65 436.15 145.31 435.39 Z" fill="url(#g2f)"/>
<path d="M138.13 407.55 C138.79 407.66 141.41 408.12 142.07 408.24 L142.07 408.24 C142.37 409.29 143.06 412.21 143.86 414.53 C144.67 416.84 145.91 419.94 146.9 422.13 C147.89 424.31 148.87 426.54 149.81 427.65 C150.74 428.77 152.05 428.63 152.5 428.83 L152.5 428.83 C151.84 429.05 149.76 429.48 148.56 430.14 C147.36 430.8 145.86 431.89 145.31 432.77 C144.77 433.64 145.86 436.7 145.31 435.39 C144.77 434.08 143.11 427.91 142.07 424.89 C141.02 421.87 139.76 419.36 139.03 417.29 C138.29 415.22 137.8 414.08 137.65 412.45 C137.5 410.83 138.05 408.37 138.13 407.55 Z" fill="#62e096"/>
<path d="M139.86 409 C140.06 409.92 140.36 412.22 141.1 414.53 C141.84 416.83 143.24 420.33 144.28 422.82 C145.31 425.3 146.81 428.34 147.32 429.45" fill="none" stroke="#a2f6c4" stroke-width="1.1" opacity="0.75"/>
</g>
<circle cx="151.46" cy="420.05" r="0.5" fill="#6a6a5a"/>
<circle cx="169.15" cy="421.44" r="0.5" fill="#6a6a5a"/>
<circle cx="184.9" cy="417.98" r="0.5" fill="#6a6a5a"/>
<circle cx="165.28" cy="431.38" r="0.5" fill="#6a6a5a"/>
<circle cx="141.79" cy="422.13" r="0.5" fill="#6a6a5a"/>
<circle cx="139.72" cy="415.91" r="0.5" fill="#6a6a5a"/>
<circle cx="146.21" cy="430" r="0.5" fill="#6a6a5a"/>
<text x="169.5" y="415.5" font-size="8.6" fill="#f03030" stroke="#f03030" stroke-width="0.22" text-anchor="middle" font-weight="bold">P3</text>
<circle cx="168.6" cy="421.5" r="1.6" fill="#f01414"/>
<rect x="31.4" y="373.1" width="197.7" height="146.3" fill="none" stroke="#505050" stroke-width="0.9"/>
<path d="M31.4 513.8h2.4" stroke="#606060" stroke-width="0.7"/>
<text x="28.6" y="516.8" font-size="8.5" fill="#2a2a2a" stroke="#2a2a2a" stroke-width="0.22" text-anchor="end" >0.3</text>
<path d="M31.4 485.05h2.4" stroke="#606060" stroke-width="0.7"/>
<text x="28.6" y="488.05" font-size="8.5" fill="#2a2a2a" stroke="#2a2a2a" stroke-width="0.22" text-anchor="end" >0.4</text>
<path d="M31.4 456.3h2.4" stroke="#606060" stroke-width="0.7"/>
<text x="28.6" y="459.3" font-size="8.5" fill="#2a2a2a" stroke="#2a2a2a" stroke-width="0.22" text-anchor="end" >0.5</text>
<path d="M31.4 427.55h2.4" stroke="#606060" stroke-width="0.7"/>
<text x="28.6" y="430.55" font-size="8.5" fill="#2a2a2a" stroke="#2a2a2a" stroke-width="0.22" text-anchor="end" >0.6</text>
<path d="M31.4 398.8h2.4" stroke="#606060" stroke-width="0.7"/>
<text x="28.6" y="401.8" font-size="8.5" fill="#2a2a2a" stroke="#2a2a2a" stroke-width="0.22" text-anchor="end" >0.7</text>
<path d="M31.4 499.42h1.4" stroke="#606060" stroke-width="0.6"/>
<path d="M31.4 470.67h1.4" stroke="#606060" stroke-width="0.6"/>
<path d="M31.4 441.92h1.4" stroke="#606060" stroke-width="0.6"/>
<path d="M31.4 413.17h1.4" stroke="#606060" stroke-width="0.6"/>
<path d="M31.4 384.42h1.4" stroke="#606060" stroke-width="0.6"/>
<path d="M31.4 519.4v-2.4" stroke="#606060" stroke-width="0.7"/>
<text x="31.4" y="528.7" font-size="8.5" fill="#2a2a2a" stroke="#2a2a2a" stroke-width="0.22" text-anchor="middle" >0.0</text>
<path d="M53.1 519.4v-2.4" stroke="#606060" stroke-width="0.7"/>
<text x="53.1" y="528.7" font-size="8.5" fill="#2a2a2a" stroke="#2a2a2a" stroke-width="0.22" text-anchor="middle" >0.1</text>
<path d="M74.8 519.4v-2.4" stroke="#606060" stroke-width="0.7"/>
<text x="74.8" y="528.7" font-size="8.5" fill="#2a2a2a" stroke="#2a2a2a" stroke-width="0.22" text-anchor="middle" >0.2</text>
<path d="M96.5 519.4v-2.4" stroke="#606060" stroke-width="0.7"/>
<text x="96.5" y="528.7" font-size="8.5" fill="#2a2a2a" stroke="#2a2a2a" stroke-width="0.22" text-anchor="middle" >0.3</text>
<path d="M118.2 519.4v-2.4" stroke="#606060" stroke-width="0.7"/>
<text x="118.2" y="528.7" font-size="8.5" fill="#2a2a2a" stroke="#2a2a2a" stroke-width="0.22" text-anchor="middle" >0.4</text>
<path d="M139.9 519.4v-2.4" stroke="#606060" stroke-width="0.7"/>
<text x="139.9" y="528.7" font-size="8.5" fill="#2a2a2a" stroke="#2a2a2a" stroke-width="0.22" text-anchor="middle" >0.5</text>
<path d="M161.6 519.4v-2.4" stroke="#606060" stroke-width="0.7"/>
<text x="161.6" y="528.7" font-size="8.5" fill="#2a2a2a" stroke="#2a2a2a" stroke-width="0.22" text-anchor="middle" >0.6</text>
<path d="M183.3 519.4v-2.4" stroke="#606060" stroke-width="0.7"/>
<text x="183.3" y="528.7" font-size="8.5" fill="#2a2a2a" stroke="#2a2a2a" stroke-width="0.22" text-anchor="middle" >0.7</text>
<path d="M205 519.4v-2.4" stroke="#606060" stroke-width="0.7"/>
<text x="205" y="528.7" font-size="8.5" fill="#2a2a2a" stroke="#2a2a2a" stroke-width="0.22" text-anchor="middle" >0.8</text>
<path d="M226.7 519.4v-2.4" stroke="#606060" stroke-width="0.7"/>
<text x="226.7" y="528.7" font-size="8.5" fill="#2a2a2a" stroke="#2a2a2a" stroke-width="0.22" text-anchor="middle" >0.9</text>
<text x="127" y="540.7" font-size="8.5" fill="#2a2a2a" stroke="#2a2a2a" stroke-width="0.22" text-anchor="middle" font-style="italic">SR</text>
<text transform="translate(14.9 446) rotate(-90)" font-size="8.5" fill="#2a2a2a" stroke="#2a2a2a" stroke-width="0.22" text-anchor="middle">Absolute Pressure(MPa)</text>
<path d="M33.57 407.42 C35.2 409.08 49.66 423.96 53.1 427.26 C56.54 430.57 71.18 443.79 74.8 447.1 C78.42 450.41 92.88 463.61 96.5 466.94 C100.12 470.27 114.58 484.04 118.2 487.06 C121.82 490.08 136.28 501.17 139.9 503.16 C143.52 505.15 157.98 509.77 161.6 510.92 C165.22 512.07 179.68 516.41 183.3 516.96 C186.92 517.51 201.38 517.56 205 517.54 C208.62 517.51 224.89 516.75 226.7 516.67" fill="none" stroke="#f04a4a" stroke-width="0.8" stroke-dasharray="2 1.6"/>
<path d="M33.57 373.91 C35.2 375.89 49.66 393.76 53.1 397.72 C56.54 401.67 71.18 416.37 74.8 421.4 C78.42 426.44 92.88 453.23 96.5 458.09 C100.12 462.94 114.58 476.43 118.2 479.66 C121.82 482.89 136.28 494.58 139.9 496.82 C143.52 499.05 157.98 505.01 161.6 506.47 C165.22 507.93 179.68 513.56 183.3 514.35 C186.92 515.13 201.38 515.84 205 515.89 C208.62 515.94 224.89 515 226.7 514.92" fill="none" stroke="#d86fd8" stroke-width="0.65"/>
<path d="M33.57 375.83 C35.2 377.77 49.66 394.65 53.1 399.1 C56.54 403.55 71.18 424.63 74.8 429.2 C78.42 433.78 92.88 450.11 96.5 454.03 C100.12 457.94 114.58 472.8 118.2 476.22 C121.82 479.64 136.28 492.66 139.9 495.07 C143.52 497.48 157.98 503.57 161.6 505.13 C165.22 506.7 179.68 513.2 183.3 513.85 C186.92 514.49 201.38 512.78 205 512.88 C208.62 512.97 224.89 514.83 226.7 515.01" fill="none" stroke="#a878e6" stroke-width="0.65"/>
<path d="M33.57 385.85 C35.2 388.5 49.66 413.13 53.1 417.59 C56.54 422.04 71.18 435.64 74.8 439.3 C78.42 442.96 92.88 457.95 96.5 461.55 C100.12 465.15 114.58 479.33 118.2 482.49 C121.82 485.65 136.28 497.39 139.9 499.48 C143.52 501.57 157.98 506.34 161.6 507.54 C165.22 508.74 179.68 513.25 183.3 513.85 C186.92 514.44 201.38 514.69 205 514.69 C208.62 514.69 224.89 513.87 226.7 513.8" fill="none" stroke="#6e8ae8" stroke-width="0.65"/>
<path d="M33.57 384.31 C35.2 386.55 49.66 406.97 53.1 411.19 C56.54 415.42 71.18 431.18 74.8 435.02 C78.42 438.85 92.88 453.51 96.5 457.22 C100.12 460.93 114.58 476.25 118.2 479.55 C121.82 482.85 136.28 494.63 139.9 496.82 C143.52 499 157.98 504.33 161.6 505.8 C165.22 507.27 179.68 513.69 183.3 514.47 C186.92 515.25 201.38 515.14 205 515.14 C208.62 515.15 224.89 514.6 226.7 514.55" fill="none" stroke="#5cc0f4" stroke-width="0.65"/>
<path d="M33.57 377.95 C35.2 379.91 49.66 397.24 53.1 401.43 C56.54 405.63 71.18 424.15 74.8 428.29 C78.42 432.42 92.88 447.09 96.5 451.03 C100.12 454.97 114.58 471.93 118.2 475.54 C121.82 479.14 136.28 491.93 139.9 494.3 C143.52 496.67 157.98 502.28 161.6 503.97 C165.22 505.66 179.68 513.57 183.3 514.59 C186.92 515.62 201.38 516.19 205 516.3 C208.62 516.41 224.89 515.93 226.7 515.9" fill="none" stroke="#4cd6d6" stroke-width="0.65"/>
<rect x="32.47" y="372.81" width="2.2" height="2.2" fill="#c414c8"/>
<rect x="52" y="396.62" width="2.2" height="2.2" fill="#c414c8"/>
<rect x="73.7" y="420.3" width="2.2" height="2.2" fill="#c414c8"/>
<rect x="95.4" y="456.99" width="2.2" height="2.2" fill="#c414c8"/>
<rect x="117.1" y="478.56" width="2.2" height="2.2" fill="#c414c8"/>
<rect x="138.8" y="495.72" width="2.2" height="2.2" fill="#c414c8"/>
<rect x="160.5" y="505.37" width="2.2" height="2.2" fill="#c414c8"/>
<rect x="182.2" y="513.25" width="2.2" height="2.2" fill="#c414c8"/>
<rect x="203.9" y="514.79" width="2.2" height="2.2" fill="#c414c8"/>
<rect x="225.6" y="513.82" width="2.2" height="2.2" fill="#c414c8"/>
<circle cx="33.57" cy="375.83" r="1.21" fill="#7414d6"/>
<circle cx="53.1" cy="399.1" r="1.21" fill="#7414d6"/>
<circle cx="74.8" cy="429.2" r="1.21" fill="#7414d6"/>
<circle cx="96.5" cy="454.03" r="1.21" fill="#7414d6"/>
<circle cx="118.2" cy="476.22" r="1.21" fill="#7414d6"/>
<circle cx="139.9" cy="495.07" r="1.21" fill="#7414d6"/>
<circle cx="161.6" cy="505.13" r="1.21" fill="#7414d6"/>
<circle cx="183.3" cy="513.85" r="1.21" fill="#7414d6"/>
<circle cx="205" cy="512.88" r="1.21" fill="#7414d6"/>
<circle cx="226.7" cy="515.01" r="1.21" fill="#7414d6"/>
<path d="M33.57 384.42 L34.89 386.95 L32.25 386.95 Z" fill="#1446e8"/>
<path d="M53.1 416.16 L54.42 418.69 L51.78 418.69 Z" fill="#1446e8"/>
<path d="M74.8 437.87 L76.12 440.4 L73.48 440.4 Z" fill="#1446e8"/>
<path d="M96.5 460.12 L97.82 462.65 L95.18 462.65 Z" fill="#1446e8"/>
<path d="M118.2 481.06 L119.52 483.59 L116.88 483.59 Z" fill="#1446e8"/>
<path d="M139.9 498.05 L141.22 500.58 L138.58 500.58 Z" fill="#1446e8"/>
<path d="M161.6 506.11 L162.92 508.64 L160.28 508.64 Z" fill="#1446e8"/>
<path d="M183.3 512.42 L184.62 514.95 L181.98 514.95 Z" fill="#1446e8"/>
<path d="M205 513.26 L206.32 515.79 L203.68 515.79 Z" fill="#1446e8"/>
<path d="M226.7 512.37 L228.02 514.9 L225.38 514.9 Z" fill="#1446e8"/>
<path d="M33.57 385.74 L34.89 383.21 L32.25 383.21 Z" fill="#14a0f4"/>
<path d="M53.1 412.62 L54.42 410.09 L51.78 410.09 Z" fill="#14a0f4"/>
<path d="M74.8 436.45 L76.12 433.92 L73.48 433.92 Z" fill="#14a0f4"/>
<path d="M96.5 458.65 L97.82 456.12 L95.18 456.12 Z" fill="#14a0f4"/>
<path d="M118.2 480.98 L119.52 478.45 L116.88 478.45 Z" fill="#14a0f4"/>
<path d="M139.9 498.25 L141.22 495.72 L138.58 495.72 Z" fill="#14a0f4"/>
<path d="M161.6 507.23 L162.92 504.7 L160.28 504.7 Z" fill="#14a0f4"/>
<path d="M183.3 515.9 L184.62 513.37 L181.98 513.37 Z" fill="#14a0f4"/>
<path d="M205 516.57 L206.32 514.04 L203.68 514.04 Z" fill="#14a0f4"/>
<path d="M226.7 515.98 L228.02 513.45 L225.38 513.45 Z" fill="#14a0f4"/>
<path d="M33.57 376.41 L35 377.95 L33.57 379.49 L32.14 377.95 Z" fill="#14c4c4"/>
<path d="M53.1 399.89 L54.53 401.43 L53.1 402.97 L51.67 401.43 Z" fill="#14c4c4"/>
<path d="M74.8 426.75 L76.23 428.29 L74.8 429.83 L73.37 428.29 Z" fill="#14c4c4"/>
<path d="M96.5 449.49 L97.93 451.03 L96.5 452.57 L95.07 451.03 Z" fill="#14c4c4"/>
<path d="M118.2 474 L119.63 475.54 L118.2 477.08 L116.77 475.54 Z" fill="#14c4c4"/>
<path d="M139.9 492.76 L141.33 494.3 L139.9 495.84 L138.47 494.3 Z" fill="#14c4c4"/>
<path d="M161.6 502.43 L163.03 503.97 L161.6 505.51 L160.17 503.97 Z" fill="#14c4c4"/>
<path d="M183.3 513.05 L184.73 514.59 L183.3 516.13 L181.87 514.59 Z" fill="#14c4c4"/>
<path d="M205 514.76 L206.43 516.3 L205 517.84 L203.57 516.3 Z" fill="#14c4c4"/>
<path d="M226.7 514.36 L228.13 515.9 L226.7 517.44 L225.27 515.9 Z" fill="#14c4c4"/>
<circle cx="33.57" cy="407.42" r="1.85" fill="#f01414"/>
<circle cx="53.1" cy="427.26" r="1.85" fill="#f01414"/>
<circle cx="74.8" cy="447.1" r="1.85" fill="#f01414"/>
<circle cx="96.5" cy="466.94" r="1.85" fill="#f01414"/>
<circle cx="118.2" cy="487.06" r="1.85" fill="#f01414"/>
<circle cx="139.9" cy="503.16" r="1.85" fill="#f01414"/>
<circle cx="161.6" cy="510.92" r="1.85" fill="#f01414"/>
<circle cx="183.3" cy="516.96" r="1.85" fill="#f01414"/>
<circle cx="205" cy="517.54" r="1.85" fill="#f01414"/>
<circle cx="226.7" cy="516.67" r="1.85" fill="#f01414"/>
<path d="M40.6 457.3H59.2" stroke="#d86fd8" stroke-width="0.65"/>
<rect x="48.8" y="456.2" width="2.2" height="2.2" fill="#c414c8"/>
<text x="62.1" y="460.2" font-size="8.5" fill="#2a2a2a" stroke="#2a2a2a" stroke-width="0.22" text-anchor="start" >SST</text>
<path d="M40.6 467.7H59.2" stroke="#a878e6" stroke-width="0.65"/>
<circle cx="49.9" cy="467.7" r="1.21" fill="#7414d6"/>
<text x="62.1" y="470.6" font-size="8.5" fill="#2a2a2a" stroke="#2a2a2a" stroke-width="0.22" text-anchor="start" >DDES</text>
<path d="M40.6 478.1H59.2" stroke="#6e8ae8" stroke-width="0.65"/>
<path d="M49.9 476.67 L51.22 479.2 L48.58 479.2 Z" fill="#1446e8"/>
<text x="62.1" y="481" font-size="8.5" fill="#2a2a2a" stroke="#2a2a2a" stroke-width="0.22" text-anchor="start" >SBES</text>
<path d="M40.6 488.5H59.2" stroke="#5cc0f4" stroke-width="0.65"/>
<path d="M49.9 489.93 L51.22 487.4 L48.58 487.4 Z" fill="#14a0f4"/>
<text x="62.1" y="491.4" font-size="8.5" fill="#2a2a2a" stroke="#2a2a2a" stroke-width="0.22" text-anchor="start" >SAS-SST</text>
<path d="M40.6 498.9H59.2" stroke="#4cd6d6" stroke-width="0.65"/>
<path d="M49.9 497.36 L51.33 498.9 L49.9 500.44 L48.47 498.9 Z" fill="#14c4c4"/>
<text x="62.1" y="501.8" font-size="8.5" fill="#2a2a2a" stroke="#2a2a2a" stroke-width="0.22" text-anchor="start" >WALE</text>
<path d="M40.6 509.3H59.2" stroke="#f04a4a" stroke-width="0.8" stroke-dasharray="2 1.6"/>
<circle cx="49.9" cy="509.3" r="1.85" fill="#f01414"/>
<text x="62.1" y="512.2" font-size="8.5" fill="#f01414" stroke="#f01414" stroke-width="0.22" text-anchor="start" >Experimental</text>
<rect x="347.5" y="16.73" width="2.8" height="134.77" fill="#c814c8" stroke="#6a0a78" stroke-width="0.5"/>
<rect x="350.7" y="51.7" width="2.8" height="99.8" fill="#7812dc" stroke="#3c0a78" stroke-width="0.5"/>
<rect x="353.9" y="77.78" width="2.8" height="73.72" fill="#1448ee" stroke="#0a2888" stroke-width="0.5"/>
<rect x="357.1" y="65.02" width="2.8" height="86.48" fill="#16a4fa" stroke="#0a5a96" stroke-width="0.5"/>
<rect x="360.3" y="77.23" width="2.8" height="74.27" fill="#18cccc" stroke="#0a6e6e" stroke-width="0.5"/>
<rect x="367" y="55.03" width="2.8" height="96.47" fill="#c814c8" stroke="#6a0a78" stroke-width="0.5"/>
<rect x="370.2" y="66.68" width="2.8" height="84.82" fill="#7812dc" stroke="#3c0a78" stroke-width="0.5"/>
<rect x="373.4" y="99.98" width="2.8" height="51.52" fill="#1448ee" stroke="#0a2888" stroke-width="0.5"/>
<rect x="376.6" y="97.21" width="2.8" height="54.29" fill="#16a4fa" stroke="#0a5a96" stroke-width="0.5"/>
<rect x="379.8" y="86.11" width="2.8" height="65.39" fill="#18cccc" stroke="#0a6e6e" stroke-width="0.5"/>
<rect x="386.5" y="66.68" width="2.8" height="84.82" fill="#c814c8" stroke="#6a0a78" stroke-width="0.5"/>
<rect x="389.7" y="80.56" width="2.8" height="70.94" fill="#7812dc" stroke="#3c0a78" stroke-width="0.5"/>
<rect x="392.9" y="117.19" width="2.8" height="34.31" fill="#1448ee" stroke="#0a2888" stroke-width="0.5"/>
<rect x="396.1" y="101.09" width="2.8" height="50.41" fill="#16a4fa" stroke="#0a5a96" stroke-width="0.5"/>
<rect x="399.3" y="94.44" width="2.8" height="57.06" fill="#18cccc" stroke="#0a6e6e" stroke-width="0.5"/>
<rect x="406" y="92.77" width="2.8" height="58.73" fill="#c814c8" stroke="#6a0a78" stroke-width="0.5"/>
<rect x="409.2" y="94.99" width="2.8" height="56.51" fill="#7812dc" stroke="#3c0a78" stroke-width="0.5"/>
<rect x="412.4" y="118.3" width="2.8" height="33.2" fill="#1448ee" stroke="#0a2888" stroke-width="0.5"/>
<rect x="415.6" y="109.42" width="2.8" height="42.08" fill="#16a4fa" stroke="#0a5a96" stroke-width="0.5"/>
<rect x="418.8" y="96.66" width="2.8" height="54.84" fill="#18cccc" stroke="#0a6e6e" stroke-width="0.5"/>
<rect x="425.5" y="83.33" width="2.8" height="68.17" fill="#c814c8" stroke="#6a0a78" stroke-width="0.5"/>
<rect x="428.7" y="111.08" width="2.8" height="40.42" fill="#7812dc" stroke="#3c0a78" stroke-width="0.5"/>
<rect x="431.9" y="127.18" width="2.8" height="24.32" fill="#1448ee" stroke="#0a2888" stroke-width="0.5"/>
<rect x="435.1" y="116.08" width="2.8" height="35.42" fill="#16a4fa" stroke="#0a5a96" stroke-width="0.5"/>
<rect x="438.3" y="99.98" width="2.8" height="51.52" fill="#18cccc" stroke="#0a6e6e" stroke-width="0.5"/>
<rect x="445" y="101.09" width="2.8" height="50.41" fill="#c814c8" stroke="#6a0a78" stroke-width="0.5"/>
<rect x="448.2" y="113.86" width="2.8" height="37.64" fill="#7812dc" stroke="#3c0a78" stroke-width="0.5"/>
<rect x="451.4" y="122.74" width="2.8" height="28.76" fill="#1448ee" stroke="#0a2888" stroke-width="0.5"/>
<rect x="454.6" y="113.58" width="2.8" height="37.92" fill="#16a4fa" stroke="#0a5a96" stroke-width="0.5"/>
<rect x="457.8" y="138.28" width="2.8" height="13.22" fill="#18cccc" stroke="#0a6e6e" stroke-width="0.5"/>
<rect x="464.5" y="117.75" width="2.8" height="33.75" fill="#c814c8" stroke="#6a0a78" stroke-width="0.5"/>
<rect x="467.7" y="121.91" width="2.8" height="29.59" fill="#7812dc" stroke="#3c0a78" stroke-width="0.5"/>
<rect x="470.9" y="141.61" width="2.8" height="9.89" fill="#1448ee" stroke="#0a2888" stroke-width="0.5"/>
<rect x="474.1" y="140.5" width="2.8" height="11" fill="#16a4fa" stroke="#0a5a96" stroke-width="0.5"/>
<rect x="477.3" y="139.94" width="2.8" height="11.56" fill="#18cccc" stroke="#0a6e6e" stroke-width="0.5"/>
<rect x="484" y="124.41" width="2.8" height="27.09" fill="#c814c8" stroke="#6a0a78" stroke-width="0.5"/>
<rect x="487.2" y="123.85" width="2.8" height="27.65" fill="#7812dc" stroke="#3c0a78" stroke-width="0.5"/>
<rect x="490.4" y="113.86" width="2.8" height="37.64" fill="#1448ee" stroke="#0a2888" stroke-width="0.5"/>
<rect x="493.6" y="123.85" width="2.8" height="27.65" fill="#16a4fa" stroke="#0a5a96" stroke-width="0.5"/>
<rect x="496.8" y="145.5" width="2.8" height="6" fill="#18cccc" stroke="#0a6e6e" stroke-width="0.5"/>
<rect x="503.5" y="148.82" width="2.8" height="2.68" fill="#c814c8" stroke="#6a0a78" stroke-width="0.5"/>
<rect x="506.7" y="136.61" width="2.8" height="14.89" fill="#7812dc" stroke="#3c0a78" stroke-width="0.5"/>
<rect x="509.9" y="142.16" width="2.8" height="9.34" fill="#1448ee" stroke="#0a2888" stroke-width="0.5"/>
<rect x="513.1" y="144.94" width="2.8" height="6.56" fill="#16a4fa" stroke="#0a5a96" stroke-width="0.5"/>
<rect x="516.3" y="147.16" width="2.8" height="4.34" fill="#18cccc" stroke="#0a6e6e" stroke-width="0.5"/>
<rect x="523" y="149.94" width="2.8" height="1.56" fill="#c814c8" stroke="#6a0a78" stroke-width="0.5"/>
<rect x="526.2" y="140.5" width="2.8" height="11" fill="#7812dc" stroke="#3c0a78" stroke-width="0.5"/>
<rect x="529.4" y="139.39" width="2.8" height="12.11" fill="#1448ee" stroke="#0a2888" stroke-width="0.5"/>
<rect x="532.6" y="135.23" width="2.8" height="16.27" fill="#16a4fa" stroke="#0a5a96" stroke-width="0.5"/>
<rect x="535.8" y="147.72" width="2.8" height="3.78" fill="#18cccc" stroke="#0a6e6e" stroke-width="0.5"/>
<rect x="345.5" y="7.5" width="194.9" height="144" fill="none" stroke="#505050" stroke-width="0.9"/>
<path d="M345.5 151.6h-3" stroke="#505050" stroke-width="0.8"/>
<text x="341.3" y="154.7" font-size="8.5" fill="#2a2a2a" stroke="#2a2a2a" stroke-width="0.22" text-anchor="end" >0</text>
<path d="M345.5 129.4h-3" stroke="#505050" stroke-width="0.8"/>
<text x="341.3" y="132.5" font-size="8.5" fill="#2a2a2a" stroke="#2a2a2a" stroke-width="0.22" text-anchor="end" >4</text>
<path d="M345.5 107.2h-3" stroke="#505050" stroke-width="0.8"/>
<text x="341.3" y="110.3" font-size="8.5" fill="#2a2a2a" stroke="#2a2a2a" stroke-width="0.22" text-anchor="end" >8</text>
<path d="M345.5 85h-3" stroke="#505050" stroke-width="0.8"/>
<text x="341.3" y="88.1" font-size="8.5" fill="#2a2a2a" stroke="#2a2a2a" stroke-width="0.22" text-anchor="end" >12</text>
<path d="M345.5 62.8h-3" stroke="#505050" stroke-width="0.8"/>
<text x="341.3" y="65.9" font-size="8.5" fill="#2a2a2a" stroke="#2a2a2a" stroke-width="0.22" text-anchor="end" >16</text>
<path d="M345.5 40.6h-3" stroke="#505050" stroke-width="0.8"/>
<text x="341.3" y="43.7" font-size="8.5" fill="#2a2a2a" stroke="#2a2a2a" stroke-width="0.22" text-anchor="end" >20</text>
<path d="M345.5 18.4h-3" stroke="#505050" stroke-width="0.8"/>
<text x="341.3" y="21.5" font-size="8.5" fill="#2a2a2a" stroke="#2a2a2a" stroke-width="0.22" text-anchor="end" >24</text>
<path d="M345.5 140.5h-1.8" stroke="#505050" stroke-width="0.7"/>
<path d="M345.5 118.3h-1.8" stroke="#505050" stroke-width="0.7"/>
<path d="M345.5 96.1h-1.8" stroke="#505050" stroke-width="0.7"/>
<path d="M345.5 73.9h-1.8" stroke="#505050" stroke-width="0.7"/>
<path d="M345.5 51.7h-1.8" stroke="#505050" stroke-width="0.7"/>
<path d="M345.5 29.5h-1.8" stroke="#505050" stroke-width="0.7"/>
<path d="M355.3 151.5v3" stroke="#505050" stroke-width="0.8"/>
<text x="355.3" y="163" font-size="8.5" fill="#2a2a2a" stroke="#2a2a2a" stroke-width="0.22" text-anchor="middle" >0.01</text>
<path d="M374.8 151.5v3" stroke="#505050" stroke-width="0.8"/>
<text x="374.8" y="163" font-size="8.5" fill="#2a2a2a" stroke="#2a2a2a" stroke-width="0.22" text-anchor="middle" >0.1</text>
<path d="M394.3 151.5v3" stroke="#505050" stroke-width="0.8"/>
<text x="394.3" y="163" font-size="8.5" fill="#2a2a2a" stroke="#2a2a2a" stroke-width="0.22" text-anchor="middle" >0.2</text>
<path d="M413.8 151.5v3" stroke="#505050" stroke-width="0.8"/>
<text x="413.8" y="163" font-size="8.5" fill="#2a2a2a" stroke="#2a2a2a" stroke-width="0.22" text-anchor="middle" >0.3</text>
<path d="M433.3 151.5v3" stroke="#505050" stroke-width="0.8"/>
<text x="433.3" y="163" font-size="8.5" fill="#2a2a2a" stroke="#2a2a2a" stroke-width="0.22" text-anchor="middle" >0.4</text>
<path d="M452.8 151.5v3" stroke="#505050" stroke-width="0.8"/>
<text x="452.8" y="163" font-size="8.5" fill="#2a2a2a" stroke="#2a2a2a" stroke-width="0.22" text-anchor="middle" >0.5</text>
<path d="M472.3 151.5v3" stroke="#505050" stroke-width="0.8"/>
<text x="472.3" y="163" font-size="8.5" fill="#2a2a2a" stroke="#2a2a2a" stroke-width="0.22" text-anchor="middle" >0.6</text>
<path d="M491.8 151.5v3" stroke="#505050" stroke-width="0.8"/>
<text x="491.8" y="163" font-size="8.5" fill="#2a2a2a" stroke="#2a2a2a" stroke-width="0.22" text-anchor="middle" >0.7</text>
<path d="M511.3 151.5v3" stroke="#505050" stroke-width="0.8"/>
<text x="511.3" y="163" font-size="8.5" fill="#2a2a2a" stroke="#2a2a2a" stroke-width="0.22" text-anchor="middle" >0.8</text>
<path d="M530.8 151.5v3" stroke="#505050" stroke-width="0.8"/>
<text x="530.8" y="163" font-size="8.5" fill="#2a2a2a" stroke="#2a2a2a" stroke-width="0.22" text-anchor="middle" >0.9</text>
<text x="440.2" y="173.5" font-size="8.5" fill="#2a2a2a" stroke="#2a2a2a" stroke-width="0.22" text-anchor="middle" font-style="italic">SR</text>
<text transform="translate(330 80) rotate(-90)" font-size="8.5" fill="#2a2a2a" stroke="#2a2a2a" stroke-width="0.22" text-anchor="middle">Absolute error (%)</text>
<rect x="470.4" y="21.1" width="18.8" height="8.9" fill="#c814c8" stroke="#8a8a8a" stroke-width="0.5"/>
<text x="491.4" y="28.55" font-size="8.5" fill="#2a2a2a" stroke="#2a2a2a" stroke-width="0.22" text-anchor="start" >SST</text>
<rect x="470.4" y="31.6" width="18.8" height="8.9" fill="#7812dc" stroke="#8a8a8a" stroke-width="0.5"/>
<text x="491.4" y="39.05" font-size="8.5" fill="#2a2a2a" stroke="#2a2a2a" stroke-width="0.22" text-anchor="start" >DDES</text>
<rect x="470.4" y="42.1" width="18.8" height="8.9" fill="#1448ee" stroke="#8a8a8a" stroke-width="0.5"/>
<text x="491.4" y="49.55" font-size="8.5" fill="#2a2a2a" stroke="#2a2a2a" stroke-width="0.22" text-anchor="start" >SBES</text>
<rect x="470.4" y="52.6" width="18.8" height="8.9" fill="#16a4fa" stroke="#8a8a8a" stroke-width="0.5"/>
<text x="491.4" y="60.05" font-size="8.5" fill="#2a2a2a" stroke="#2a2a2a" stroke-width="0.22" text-anchor="start" >SAS-SST</text>
<rect x="470.4" y="63.1" width="18.8" height="8.9" fill="#18cccc" stroke="#8a8a8a" stroke-width="0.5"/>
<text x="491.4" y="70.55" font-size="8.5" fill="#2a2a2a" stroke="#2a2a2a" stroke-width="0.22" text-anchor="start" >WALE</text>
<rect x="347" y="206" width="2.92" height="129.3" fill="#c814c8" stroke="#6a0a78" stroke-width="0.5"/>
<rect x="350.32" y="235.35" width="2.92" height="99.95" fill="#7812dc" stroke="#3c0a78" stroke-width="0.5"/>
<rect x="353.64" y="260.03" width="2.92" height="75.27" fill="#1448ee" stroke="#0a2888" stroke-width="0.5"/>
<rect x="356.96" y="245.35" width="2.92" height="89.95" fill="#16a4fa" stroke="#0a5a96" stroke-width="0.5"/>
<rect x="360.28" y="246.02" width="2.92" height="89.28" fill="#18cccc" stroke="#0a6e6e" stroke-width="0.5"/>
<rect x="366.7" y="219.34" width="2.92" height="115.96" fill="#c814c8" stroke="#6a0a78" stroke-width="0.5"/>
<rect x="370.02" y="246.69" width="2.92" height="88.61" fill="#7812dc" stroke="#3c0a78" stroke-width="0.5"/>
<rect x="373.34" y="273.37" width="2.92" height="61.93" fill="#1448ee" stroke="#0a2888" stroke-width="0.5"/>
<rect x="376.66" y="270.03" width="2.92" height="65.27" fill="#16a4fa" stroke="#0a5a96" stroke-width="0.5"/>
<rect x="379.98" y="256.03" width="2.92" height="79.27" fill="#18cccc" stroke="#0a6e6e" stroke-width="0.5"/>
<rect x="386.4" y="260.03" width="2.92" height="75.27" fill="#c814c8" stroke="#6a0a78" stroke-width="0.5"/>
<rect x="389.72" y="263.36" width="2.92" height="71.94" fill="#7812dc" stroke="#3c0a78" stroke-width="0.5"/>
<rect x="393.04" y="294.05" width="2.92" height="41.25" fill="#1448ee" stroke="#0a2888" stroke-width="0.5"/>
<rect x="396.36" y="274.7" width="2.92" height="60.6" fill="#16a4fa" stroke="#0a5a96" stroke-width="0.5"/>
<rect x="399.68" y="266.7" width="2.92" height="68.6" fill="#18cccc" stroke="#0a6e6e" stroke-width="0.5"/>
<rect x="406.1" y="264.7" width="2.92" height="70.6" fill="#c814c8" stroke="#6a0a78" stroke-width="0.5"/>
<rect x="409.42" y="267.37" width="2.92" height="67.93" fill="#7812dc" stroke="#3c0a78" stroke-width="0.5"/>
<rect x="412.74" y="295.38" width="2.92" height="39.92" fill="#1448ee" stroke="#0a2888" stroke-width="0.5"/>
<rect x="416.06" y="284.71" width="2.92" height="50.59" fill="#16a4fa" stroke="#0a5a96" stroke-width="0.5"/>
<rect x="419.38" y="269.37" width="2.92" height="65.93" fill="#18cccc" stroke="#0a6e6e" stroke-width="0.5"/>
<rect x="425.8" y="273.37" width="2.92" height="61.93" fill="#c814c8" stroke="#6a0a78" stroke-width="0.5"/>
<rect x="429.12" y="286.71" width="2.92" height="48.59" fill="#7812dc" stroke="#3c0a78" stroke-width="0.5"/>
<rect x="432.44" y="306.05" width="2.92" height="29.25" fill="#1448ee" stroke="#0a2888" stroke-width="0.5"/>
<rect x="435.76" y="292.71" width="2.92" height="42.59" fill="#16a4fa" stroke="#0a5a96" stroke-width="0.5"/>
<rect x="439.08" y="273.37" width="2.92" height="61.93" fill="#18cccc" stroke="#0a6e6e" stroke-width="0.5"/>
<rect x="445.5" y="274.7" width="2.92" height="60.6" fill="#c814c8" stroke="#6a0a78" stroke-width="0.5"/>
<rect x="448.82" y="290.04" width="2.92" height="45.26" fill="#7812dc" stroke="#3c0a78" stroke-width="0.5"/>
<rect x="452.14" y="307.39" width="2.92" height="27.91" fill="#1448ee" stroke="#0a2888" stroke-width="0.5"/>
<rect x="455.46" y="303.38" width="2.92" height="31.92" fill="#16a4fa" stroke="#0a5a96" stroke-width="0.5"/>
<rect x="458.78" y="319.39" width="2.92" height="15.91" fill="#18cccc" stroke="#0a6e6e" stroke-width="0.5"/>
<rect x="465.2" y="294.71" width="2.92" height="40.59" fill="#c814c8" stroke="#6a0a78" stroke-width="0.5"/>
<rect x="468.52" y="299.38" width="2.92" height="35.92" fill="#7812dc" stroke="#3c0a78" stroke-width="0.5"/>
<rect x="471.84" y="323.39" width="2.92" height="11.91" fill="#1448ee" stroke="#0a2888" stroke-width="0.5"/>
<rect x="475.16" y="322.06" width="2.92" height="13.24" fill="#16a4fa" stroke="#0a5a96" stroke-width="0.5"/>
<rect x="478.48" y="321.39" width="2.92" height="13.91" fill="#18cccc" stroke="#0a6e6e" stroke-width="0.5"/>
<rect x="484.9" y="325.39" width="2.92" height="9.91" fill="#c814c8" stroke="#6a0a78" stroke-width="0.5"/>
<rect x="488.22" y="302.05" width="2.92" height="33.25" fill="#7812dc" stroke="#3c0a78" stroke-width="0.5"/>
<rect x="491.54" y="316.72" width="2.92" height="18.58" fill="#1448ee" stroke="#0a2888" stroke-width="0.5"/>
<rect x="494.86" y="322.06" width="2.92" height="13.24" fill="#16a4fa" stroke="#0a5a96" stroke-width="0.5"/>
<rect x="498.18" y="328.06" width="2.92" height="7.24" fill="#18cccc" stroke="#0a6e6e" stroke-width="0.5"/>
<rect x="504.6" y="302.72" width="2.92" height="32.58" fill="#c814c8" stroke="#6a0a78" stroke-width="0.5"/>
<rect x="507.92" y="317.39" width="2.92" height="17.91" fill="#7812dc" stroke="#3c0a78" stroke-width="0.5"/>
<rect x="511.24" y="324.73" width="2.92" height="10.57" fill="#1448ee" stroke="#0a2888" stroke-width="0.5"/>
<rect x="514.56" y="308.05" width="2.92" height="27.25" fill="#16a4fa" stroke="#0a5a96" stroke-width="0.5"/>
<rect x="517.88" y="330.4" width="2.92" height="4.9" fill="#18cccc" stroke="#0a6e6e" stroke-width="0.5"/>
<rect x="524.3" y="326.73" width="2.92" height="8.57" fill="#c814c8" stroke="#6a0a78" stroke-width="0.5"/>
<rect x="527.62" y="322.06" width="2.92" height="13.24" fill="#7812dc" stroke="#3c0a78" stroke-width="0.5"/>
<rect x="530.94" y="327.4" width="2.92" height="7.9" fill="#1448ee" stroke="#0a2888" stroke-width="0.5"/>
<rect x="534.26" y="329.4" width="2.92" height="5.9" fill="#16a4fa" stroke="#0a5a96" stroke-width="0.5"/>
<rect x="537.58" y="330.73" width="2.92" height="4.57" fill="#18cccc" stroke="#0a6e6e" stroke-width="0.5"/>
<rect x="344.6" y="189.4" width="197.6" height="145.9" fill="none" stroke="#505050" stroke-width="0.9"/>
<path d="M344.6 335.4h-3" stroke="#505050" stroke-width="0.8"/>
<text x="340.4" y="338.5" font-size="8.5" fill="#2a2a2a" stroke="#2a2a2a" stroke-width="0.22" text-anchor="end" >0</text>
<path d="M344.6 308.72h-3" stroke="#505050" stroke-width="0.8"/>
<text x="340.4" y="311.82" font-size="8.5" fill="#2a2a2a" stroke="#2a2a2a" stroke-width="0.22" text-anchor="end" >4</text>
<path d="M344.6 282.04h-3" stroke="#505050" stroke-width="0.8"/>
<text x="340.4" y="285.14" font-size="8.5" fill="#2a2a2a" stroke="#2a2a2a" stroke-width="0.22" text-anchor="end" >8</text>
<path d="M344.6 255.36h-3" stroke="#505050" stroke-width="0.8"/>
<text x="340.4" y="258.46" font-size="8.5" fill="#2a2a2a" stroke="#2a2a2a" stroke-width="0.22" text-anchor="end" >12</text>
<path d="M344.6 228.68h-3" stroke="#505050" stroke-width="0.8"/>
<text x="340.4" y="231.78" font-size="8.5" fill="#2a2a2a" stroke="#2a2a2a" stroke-width="0.22" text-anchor="end" >16</text>
<path d="M344.6 202h-3" stroke="#505050" stroke-width="0.8"/>
<text x="340.4" y="205.1" font-size="8.5" fill="#2a2a2a" stroke="#2a2a2a" stroke-width="0.22" text-anchor="end" >20</text>
<path d="M344.6 322.06h-1.8" stroke="#505050" stroke-width="0.7"/>
<path d="M344.6 295.38h-1.8" stroke="#505050" stroke-width="0.7"/>
<path d="M344.6 268.7h-1.8" stroke="#505050" stroke-width="0.7"/>
<path d="M344.6 242.02h-1.8" stroke="#505050" stroke-width="0.7"/>
<path d="M344.6 215.34h-1.8" stroke="#505050" stroke-width="0.7"/>
<path d="M354.6 335.3v3" stroke="#505050" stroke-width="0.8"/>
<text x="354.6" y="346.6" font-size="8.5" fill="#2a2a2a" stroke="#2a2a2a" stroke-width="0.22" text-anchor="middle" >0.01</text>
<path d="M374.3 335.3v3" stroke="#505050" stroke-width="0.8"/>
<text x="374.3" y="346.6" font-size="8.5" fill="#2a2a2a" stroke="#2a2a2a" stroke-width="0.22" text-anchor="middle" >0.1</text>
<path d="M394 335.3v3" stroke="#505050" stroke-width="0.8"/>
<text x="394" y="346.6" font-size="8.5" fill="#2a2a2a" stroke="#2a2a2a" stroke-width="0.22" text-anchor="middle" >0.2</text>
<path d="M413.7 335.3v3" stroke="#505050" stroke-width="0.8"/>
<text x="413.7" y="346.6" font-size="8.5" fill="#2a2a2a" stroke="#2a2a2a" stroke-width="0.22" text-anchor="middle" >0.3</text>
<path d="M433.4 335.3v3" stroke="#505050" stroke-width="0.8"/>
<text x="433.4" y="346.6" font-size="8.5" fill="#2a2a2a" stroke="#2a2a2a" stroke-width="0.22" text-anchor="middle" >0.4</text>
<path d="M453.1 335.3v3" stroke="#505050" stroke-width="0.8"/>
<text x="453.1" y="346.6" font-size="8.5" fill="#2a2a2a" stroke="#2a2a2a" stroke-width="0.22" text-anchor="middle" >0.5</text>
<path d="M472.8 335.3v3" stroke="#505050" stroke-width="0.8"/>
<text x="472.8" y="346.6" font-size="8.5" fill="#2a2a2a" stroke="#2a2a2a" stroke-width="0.22" text-anchor="middle" >0.6</text>
<path d="M492.5 335.3v3" stroke="#505050" stroke-width="0.8"/>
<text x="492.5" y="346.6" font-size="8.5" fill="#2a2a2a" stroke="#2a2a2a" stroke-width="0.22" text-anchor="middle" >0.7</text>
<path d="M512.2 335.3v3" stroke="#505050" stroke-width="0.8"/>
<text x="512.2" y="346.6" font-size="8.5" fill="#2a2a2a" stroke="#2a2a2a" stroke-width="0.22" text-anchor="middle" >0.8</text>
<path d="M531.9 335.3v3" stroke="#505050" stroke-width="0.8"/>
<text x="531.9" y="346.6" font-size="8.5" fill="#2a2a2a" stroke="#2a2a2a" stroke-width="0.22" text-anchor="middle" >0.9</text>
<text x="440.6" y="358" font-size="8.5" fill="#2a2a2a" stroke="#2a2a2a" stroke-width="0.22" text-anchor="middle" font-style="italic">SR</text>
<text transform="translate(328.8 262.2) rotate(-90)" font-size="8.5" fill="#2a2a2a" stroke="#2a2a2a" stroke-width="0.22" text-anchor="middle">Absolute error (%)</text>
<rect x="469.5" y="202.4" width="18.6" height="8.9" fill="#c814c8" stroke="#8a8a8a" stroke-width="0.5"/>
<text x="490.8" y="209.85" font-size="8.5" fill="#2a2a2a" stroke="#2a2a2a" stroke-width="0.22" text-anchor="start" >SST</text>
<rect x="469.5" y="212.9" width="18.6" height="8.9" fill="#7812dc" stroke="#8a8a8a" stroke-width="0.5"/>
<text x="490.8" y="220.35" font-size="8.5" fill="#2a2a2a" stroke="#2a2a2a" stroke-width="0.22" text-anchor="start" >DDES</text>
<rect x="469.5" y="223.4" width="18.6" height="8.9" fill="#1448ee" stroke="#8a8a8a" stroke-width="0.5"/>
<text x="490.8" y="230.85" font-size="8.5" fill="#2a2a2a" stroke="#2a2a2a" stroke-width="0.22" text-anchor="start" >SBES</text>
<rect x="469.5" y="233.9" width="18.6" height="8.9" fill="#16a4fa" stroke="#8a8a8a" stroke-width="0.5"/>
<text x="490.8" y="241.35" font-size="8.5" fill="#2a2a2a" stroke="#2a2a2a" stroke-width="0.22" text-anchor="start" >SAS-SST</text>
<rect x="469.5" y="244.4" width="18.6" height="8.9" fill="#18cccc" stroke="#8a8a8a" stroke-width="0.5"/>
<text x="490.8" y="251.85" font-size="8.5" fill="#2a2a2a" stroke="#2a2a2a" stroke-width="0.22" text-anchor="start" >WALE</text>
<rect x="347" y="385.49" width="2.92" height="133.71" fill="#c814c8" stroke="#6a0a78" stroke-width="0.5"/>
<rect x="350.32" y="393.18" width="2.92" height="126.02" fill="#7812dc" stroke="#3c0a78" stroke-width="0.5"/>
<rect x="353.64" y="433.17" width="2.92" height="86.03" fill="#1448ee" stroke="#0a2888" stroke-width="0.5"/>
<rect x="356.96" y="427.02" width="2.92" height="92.18" fill="#16a4fa" stroke="#0a5a96" stroke-width="0.5"/>
<rect x="360.28" y="401.64" width="2.92" height="117.56" fill="#18cccc" stroke="#0a6e6e" stroke-width="0.5"/>
<rect x="366.7" y="387.8" width="2.92" height="131.4" fill="#c814c8" stroke="#6a0a78" stroke-width="0.5"/>
<rect x="370.02" y="393.95" width="2.92" height="125.25" fill="#7812dc" stroke="#3c0a78" stroke-width="0.5"/>
<rect x="373.34" y="476.24" width="2.92" height="42.96" fill="#1448ee" stroke="#0a2888" stroke-width="0.5"/>
<rect x="376.66" y="447.78" width="2.92" height="71.42" fill="#16a4fa" stroke="#0a5a96" stroke-width="0.5"/>
<rect x="379.98" y="404.33" width="2.92" height="114.87" fill="#18cccc" stroke="#0a6e6e" stroke-width="0.5"/>
<rect x="386.4" y="390.11" width="2.92" height="129.09" fill="#c814c8" stroke="#6a0a78" stroke-width="0.5"/>
<rect x="389.72" y="429.33" width="2.92" height="89.87" fill="#7812dc" stroke="#3c0a78" stroke-width="0.5"/>
<rect x="393.04" y="480.08" width="2.92" height="39.12" fill="#1448ee" stroke="#0a2888" stroke-width="0.5"/>
<rect x="396.36" y="458.55" width="2.92" height="60.65" fill="#16a4fa" stroke="#0a5a96" stroke-width="0.5"/>
<rect x="399.68" y="424.71" width="2.92" height="94.49" fill="#18cccc" stroke="#0a6e6e" stroke-width="0.5"/>
<rect x="406.1" y="468.16" width="2.92" height="51.04" fill="#c814c8" stroke="#6a0a78" stroke-width="0.5"/>
<rect x="409.42" y="444.71" width="2.92" height="74.49" fill="#7812dc" stroke="#3c0a78" stroke-width="0.5"/>
<rect x="412.74" y="488.16" width="2.92" height="31.04" fill="#1448ee" stroke="#0a2888" stroke-width="0.5"/>
<rect x="416.06" y="463.16" width="2.92" height="56.04" fill="#16a4fa" stroke="#0a5a96" stroke-width="0.5"/>
<rect x="419.38" y="427.4" width="2.92" height="91.8" fill="#18cccc" stroke="#0a6e6e" stroke-width="0.5"/>
<rect x="425.8" y="468.93" width="2.92" height="50.27" fill="#c814c8" stroke="#6a0a78" stroke-width="0.5"/>
<rect x="429.12" y="445.48" width="2.92" height="73.72" fill="#7812dc" stroke="#3c0a78" stroke-width="0.5"/>
<rect x="432.44" y="488.16" width="2.92" height="31.04" fill="#1448ee" stroke="#0a2888" stroke-width="0.5"/>
<rect x="435.76" y="468.16" width="2.92" height="51.04" fill="#16a4fa" stroke="#0a5a96" stroke-width="0.5"/>
<rect x="439.08" y="440.86" width="2.92" height="78.34" fill="#18cccc" stroke="#0a6e6e" stroke-width="0.5"/>
<rect x="445.5" y="468.93" width="2.92" height="50.27" fill="#c814c8" stroke="#6a0a78" stroke-width="0.5"/>
<rect x="448.82" y="455.09" width="2.92" height="64.11" fill="#7812dc" stroke="#3c0a78" stroke-width="0.5"/>
<rect x="452.14" y="490.08" width="2.92" height="29.12" fill="#1448ee" stroke="#0a2888" stroke-width="0.5"/>
<rect x="455.46" y="468.93" width="2.92" height="50.27" fill="#16a4fa" stroke="#0a5a96" stroke-width="0.5"/>
<rect x="458.78" y="448.94" width="2.92" height="70.26" fill="#18cccc" stroke="#0a6e6e" stroke-width="0.5"/>
<rect x="465.2" y="480.85" width="2.92" height="38.35" fill="#c814c8" stroke="#6a0a78" stroke-width="0.5"/>
<rect x="468.52" y="469.31" width="2.92" height="49.89" fill="#7812dc" stroke="#3c0a78" stroke-width="0.5"/>
<rect x="471.84" y="490.08" width="2.92" height="29.12" fill="#1448ee" stroke="#0a2888" stroke-width="0.5"/>
<rect x="475.16" y="475.08" width="2.92" height="44.12" fill="#16a4fa" stroke="#0a5a96" stroke-width="0.5"/>
<rect x="478.48" y="459.32" width="2.92" height="59.88" fill="#18cccc" stroke="#0a6e6e" stroke-width="0.5"/>
<rect x="484.9" y="495.08" width="2.92" height="24.12" fill="#c814c8" stroke="#6a0a78" stroke-width="0.5"/>
<rect x="488.22" y="490.46" width="2.92" height="28.74" fill="#7812dc" stroke="#3c0a78" stroke-width="0.5"/>
<rect x="491.54" y="490.46" width="2.92" height="28.74" fill="#1448ee" stroke="#0a2888" stroke-width="0.5"/>
<rect x="494.86" y="496.23" width="2.92" height="22.97" fill="#16a4fa" stroke="#0a5a96" stroke-width="0.5"/>
<rect x="498.18" y="497.38" width="2.92" height="21.82" fill="#18cccc" stroke="#0a6e6e" stroke-width="0.5"/>
<rect x="504.6" y="503.92" width="2.92" height="15.28" fill="#c814c8" stroke="#6a0a78" stroke-width="0.5"/>
<rect x="507.92" y="475.85" width="2.92" height="43.35" fill="#7812dc" stroke="#3c0a78" stroke-width="0.5"/>
<rect x="511.24" y="492.77" width="2.92" height="26.43" fill="#1448ee" stroke="#0a2888" stroke-width="0.5"/>
<rect x="514.56" y="497" width="2.92" height="22.2" fill="#16a4fa" stroke="#0a5a96" stroke-width="0.5"/>
<rect x="517.88" y="507.76" width="2.92" height="11.44" fill="#18cccc" stroke="#0a6e6e" stroke-width="0.5"/>
<rect x="524.3" y="503.15" width="2.92" height="16.05" fill="#c814c8" stroke="#6a0a78" stroke-width="0.5"/>
<rect x="527.62" y="503.92" width="2.92" height="15.28" fill="#7812dc" stroke="#3c0a78" stroke-width="0.5"/>
<rect x="530.94" y="492.77" width="2.92" height="26.43" fill="#1448ee" stroke="#0a2888" stroke-width="0.5"/>
<rect x="534.26" y="499.69" width="2.92" height="19.51" fill="#16a4fa" stroke="#0a5a96" stroke-width="0.5"/>
<rect x="537.58" y="512.15" width="2.92" height="7.05" fill="#18cccc" stroke="#0a6e6e" stroke-width="0.5"/>
<rect x="344.6" y="373.1" width="197.6" height="146.1" fill="none" stroke="#505050" stroke-width="0.9"/>
<path d="M344.6 519.3h-3" stroke="#505050" stroke-width="0.8"/>
<text x="340.4" y="522.4" font-size="8.5" fill="#2a2a2a" stroke="#2a2a2a" stroke-width="0.22" text-anchor="end" >0</text>
<path d="M344.6 488.54h-3" stroke="#505050" stroke-width="0.8"/>
<text x="340.4" y="491.64" font-size="8.5" fill="#2a2a2a" stroke="#2a2a2a" stroke-width="0.22" text-anchor="end" >4</text>
<path d="M344.6 457.78h-3" stroke="#505050" stroke-width="0.8"/>
<text x="340.4" y="460.88" font-size="8.5" fill="#2a2a2a" stroke="#2a2a2a" stroke-width="0.22" text-anchor="end" >8</text>
<path d="M344.6 427.02h-3" stroke="#505050" stroke-width="0.8"/>
<text x="340.4" y="430.12" font-size="8.5" fill="#2a2a2a" stroke="#2a2a2a" stroke-width="0.22" text-anchor="end" >12</text>
<path d="M344.6 396.26h-3" stroke="#505050" stroke-width="0.8"/>
<text x="340.4" y="399.36" font-size="8.5" fill="#2a2a2a" stroke="#2a2a2a" stroke-width="0.22" text-anchor="end" >16</text>
<path d="M344.6 503.92h-1.8" stroke="#505050" stroke-width="0.7"/>
<path d="M344.6 473.16h-1.8" stroke="#505050" stroke-width="0.7"/>
<path d="M344.6 442.4h-1.8" stroke="#505050" stroke-width="0.7"/>
<path d="M344.6 411.64h-1.8" stroke="#505050" stroke-width="0.7"/>
<path d="M344.6 380.88h-1.8" stroke="#505050" stroke-width="0.7"/>
<path d="M354.6 519.2v3" stroke="#505050" stroke-width="0.8"/>
<text x="354.6" y="530.6" font-size="8.5" fill="#2a2a2a" stroke="#2a2a2a" stroke-width="0.22" text-anchor="middle" >0.01</text>
<path d="M374.3 519.2v3" stroke="#505050" stroke-width="0.8"/>
<text x="374.3" y="530.6" font-size="8.5" fill="#2a2a2a" stroke="#2a2a2a" stroke-width="0.22" text-anchor="middle" >0.1</text>
<path d="M394 519.2v3" stroke="#505050" stroke-width="0.8"/>
<text x="394" y="530.6" font-size="8.5" fill="#2a2a2a" stroke="#2a2a2a" stroke-width="0.22" text-anchor="middle" >0.2</text>
<path d="M413.7 519.2v3" stroke="#505050" stroke-width="0.8"/>
<text x="413.7" y="530.6" font-size="8.5" fill="#2a2a2a" stroke="#2a2a2a" stroke-width="0.22" text-anchor="middle" >0.3</text>
<path d="M433.4 519.2v3" stroke="#505050" stroke-width="0.8"/>
<text x="433.4" y="530.6" font-size="8.5" fill="#2a2a2a" stroke="#2a2a2a" stroke-width="0.22" text-anchor="middle" >0.4</text>
<path d="M453.1 519.2v3" stroke="#505050" stroke-width="0.8"/>
<text x="453.1" y="530.6" font-size="8.5" fill="#2a2a2a" stroke="#2a2a2a" stroke-width="0.22" text-anchor="middle" >0.5</text>
<path d="M472.8 519.2v3" stroke="#505050" stroke-width="0.8"/>
<text x="472.8" y="530.6" font-size="8.5" fill="#2a2a2a" stroke="#2a2a2a" stroke-width="0.22" text-anchor="middle" >0.6</text>
<path d="M492.5 519.2v3" stroke="#505050" stroke-width="0.8"/>
<text x="492.5" y="530.6" font-size="8.5" fill="#2a2a2a" stroke="#2a2a2a" stroke-width="0.22" text-anchor="middle" >0.7</text>
<path d="M512.2 519.2v3" stroke="#505050" stroke-width="0.8"/>
<text x="512.2" y="530.6" font-size="8.5" fill="#2a2a2a" stroke="#2a2a2a" stroke-width="0.22" text-anchor="middle" >0.8</text>
<path d="M531.9 519.2v3" stroke="#505050" stroke-width="0.8"/>
<text x="531.9" y="530.6" font-size="8.5" fill="#2a2a2a" stroke="#2a2a2a" stroke-width="0.22" text-anchor="middle" >0.9</text>
<text x="440.6" y="541.5" font-size="8.5" fill="#2a2a2a" stroke="#2a2a2a" stroke-width="0.22" text-anchor="middle" font-style="italic">SR</text>
<text transform="translate(328.8 446) rotate(-90)" font-size="8.5" fill="#2a2a2a" stroke="#2a2a2a" stroke-width="0.22" text-anchor="middle">Absolute error (%)</text>
<rect x="458.1" y="378.5" width="18.6" height="8.8" fill="#c814c8" stroke="#8a8a8a" stroke-width="0.5"/>
<text x="479.4" y="385.9" font-size="8.5" fill="#2a2a2a" stroke="#2a2a2a" stroke-width="0.22" text-anchor="start" >SST</text>
<rect x="458.1" y="388.95" width="18.6" height="8.8" fill="#7812dc" stroke="#8a8a8a" stroke-width="0.5"/>
<text x="479.4" y="396.35" font-size="8.5" fill="#2a2a2a" stroke="#2a2a2a" stroke-width="0.22" text-anchor="start" >DDES</text>
<rect x="458.1" y="399.4" width="18.6" height="8.8" fill="#1448ee" stroke="#8a8a8a" stroke-width="0.5"/>
<text x="479.4" y="406.8" font-size="8.5" fill="#2a2a2a" stroke="#2a2a2a" stroke-width="0.22" text-anchor="start" >SBES</text>
<rect x="458.1" y="409.85" width="18.6" height="8.8" fill="#16a4fa" stroke="#8a8a8a" stroke-width="0.5"/>
<text x="479.4" y="417.25" font-size="8.5" fill="#2a2a2a" stroke="#2a2a2a" stroke-width="0.22" text-anchor="start" >SAS-SST</text>
<rect x="458.1" y="420.3" width="18.6" height="8.8" fill="#18cccc" stroke="#8a8a8a" stroke-width="0.5"/>
<text x="479.4" y="427.7" font-size="8.5" fill="#2a2a2a" stroke="#2a2a2a" stroke-width="0.22" text-anchor="start" >WALE</text>
</svg>
</body></html>
